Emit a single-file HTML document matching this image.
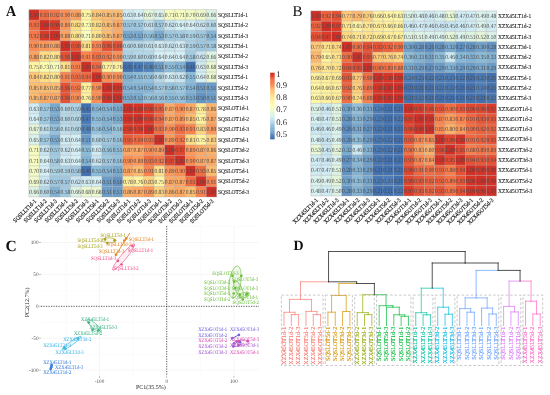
<!DOCTYPE html>
<html><head><meta charset="utf-8"><title>figure</title><style>
html,body{margin:0;padding:0;background:#fff;}
body{width:550px;height:395px;overflow:hidden;}
svg{display:block;font-family:"Liberation Serif",serif;will-change:transform;text-rendering:geometricPrecision;filter:blur(0.4px);}
.gl{stroke:#a0a0a0;stroke-width:0.35;}
.num text{text-anchor:middle;fill:#484848;}
.rl text{fill:#1a1a1a;stroke:#1a1a1a;stroke-width:0.1px;}
.cl text{text-anchor:end;fill:#111;stroke:#111;stroke-width:0.15px;}
.cb{font-size:8.6px;fill:#222;}
.gmin{stroke:#f6f6f6;stroke-width:0.5;}
.gmaj{stroke:#f0f0f0;stroke-width:0.6;}
.zl{stroke:#333;stroke-width:0.8;stroke-dasharray:1.2 1.3;}
.tk{stroke:#888;stroke-width:0.5;}
.tl{font-size:5.2px;fill:#4a4a4a;}
.at{font-size:6px;fill:#222;}
.pl{font-size:5.3px;stroke-width:0.04px;}
.dl{stroke-width:0.85;stroke-linecap:square;}
.dr{fill:none;stroke:#acacac;stroke-width:0.65;stroke-dasharray:2.6 1.9;}
.dlab{font-size:6.1px;text-anchor:end;stroke-width:0.12px;}
.big{font-weight:bold;fill:#111;}
</style></head><body>
<svg width="550" height="395" viewBox="0 0 550 395">
<rect width="550" height="395" fill="#fff"/>
<g>
<rect x="28.90" y="9.60" width="10.43" height="10.41" fill="#d12f26"/>
<rect x="39.33" y="9.60" width="10.43" height="10.41" fill="#f16d42"/>
<rect x="49.76" y="9.60" width="10.43" height="10.41" fill="#f67848"/>
<rect x="60.19" y="9.60" width="10.43" height="10.41" fill="#fc8e54"/>
<rect x="70.62" y="9.60" width="10.43" height="10.41" fill="#fca261"/>
<rect x="81.05" y="9.60" width="10.43" height="10.41" fill="#fff5a5"/>
<rect x="91.48" y="9.60" width="10.43" height="10.41" fill="#fdc777"/>
<rect x="101.91" y="9.60" width="10.43" height="10.41" fill="#fdbd71"/>
<rect x="112.34" y="9.60" width="10.43" height="10.41" fill="#fdbd71"/>
<rect x="122.77" y="9.60" width="10.43" height="10.41" fill="#d0ebf3"/>
<rect x="133.20" y="9.60" width="10.43" height="10.41" fill="#d4eff5"/>
<rect x="143.63" y="9.60" width="10.43" height="10.41" fill="#e3f4d8"/>
<rect x="154.06" y="9.60" width="10.43" height="10.41" fill="#daf1ec"/>
<rect x="164.49" y="9.60" width="10.43" height="10.41" fill="#f7fcbe"/>
<rect x="174.92" y="9.60" width="10.43" height="10.41" fill="#f7fcbe"/>
<rect x="185.35" y="9.60" width="10.43" height="10.41" fill="#f2fac5"/>
<rect x="195.78" y="9.60" width="10.43" height="10.41" fill="#eff9c9"/>
<rect x="206.21" y="9.60" width="10.43" height="10.41" fill="#ddf2e1"/>
<rect x="28.90" y="20.01" width="10.43" height="10.41" fill="#f16d42"/>
<rect x="39.33" y="20.01" width="10.43" height="10.41" fill="#d12f26"/>
<rect x="49.76" y="20.01" width="10.43" height="10.41" fill="#dd3b29"/>
<rect x="60.19" y="20.01" width="10.43" height="10.41" fill="#fc985a"/>
<rect x="70.62" y="20.01" width="10.43" height="10.41" fill="#fedd84"/>
<rect x="81.05" y="20.01" width="10.43" height="10.41" fill="#fffeb0"/>
<rect x="91.48" y="20.01" width="10.43" height="10.41" fill="#fedd84"/>
<rect x="101.91" y="20.01" width="10.43" height="10.41" fill="#fdbd71"/>
<rect x="112.34" y="20.01" width="10.43" height="10.41" fill="#fda864"/>
<rect x="122.77" y="20.01" width="10.43" height="10.41" fill="#9ec8e0"/>
<rect x="133.20" y="20.01" width="10.43" height="10.41" fill="#9ec8e0"/>
<rect x="143.63" y="20.01" width="10.43" height="10.41" fill="#bedeec"/>
<rect x="154.06" y="20.01" width="10.43" height="10.41" fill="#9ec8e0"/>
<rect x="164.49" y="20.01" width="10.43" height="10.41" fill="#c7e4f0"/>
<rect x="174.92" y="20.01" width="10.43" height="10.41" fill="#d4eff5"/>
<rect x="185.35" y="20.01" width="10.43" height="10.41" fill="#d4eff5"/>
<rect x="195.78" y="20.01" width="10.43" height="10.41" fill="#c7e4f0"/>
<rect x="206.21" y="20.01" width="10.43" height="10.41" fill="#b5d8e9"/>
<rect x="28.90" y="30.42" width="10.43" height="10.41" fill="#f67848"/>
<rect x="39.33" y="30.42" width="10.43" height="10.41" fill="#dd3b29"/>
<rect x="49.76" y="30.42" width="10.43" height="10.41" fill="#d12f26"/>
<rect x="60.19" y="30.42" width="10.43" height="10.41" fill="#fca261"/>
<rect x="70.62" y="30.42" width="10.43" height="10.41" fill="#fee38c"/>
<rect x="81.05" y="30.42" width="10.43" height="10.41" fill="#f7fcbe"/>
<rect x="91.48" y="30.42" width="10.43" height="10.41" fill="#fee38c"/>
<rect x="101.91" y="30.42" width="10.43" height="10.41" fill="#fdbd71"/>
<rect x="112.34" y="30.42" width="10.43" height="10.41" fill="#fda864"/>
<rect x="122.77" y="30.42" width="10.43" height="10.41" fill="#79abd0"/>
<rect x="133.20" y="30.42" width="10.43" height="10.41" fill="#79abd0"/>
<rect x="143.63" y="30.42" width="10.43" height="10.41" fill="#94c2dd"/>
<rect x="154.06" y="30.42" width="10.43" height="10.41" fill="#79abd0"/>
<rect x="164.49" y="30.42" width="10.43" height="10.41" fill="#9ec8e0"/>
<rect x="174.92" y="30.42" width="10.43" height="10.41" fill="#a2cbe2"/>
<rect x="185.35" y="30.42" width="10.43" height="10.41" fill="#abd1e5"/>
<rect x="195.78" y="30.42" width="10.43" height="10.41" fill="#9ec8e0"/>
<rect x="206.21" y="30.42" width="10.43" height="10.41" fill="#82b3d5"/>
<rect x="28.90" y="40.83" width="10.43" height="10.41" fill="#fc8e54"/>
<rect x="39.33" y="40.83" width="10.43" height="10.41" fill="#fc985a"/>
<rect x="49.76" y="40.83" width="10.43" height="10.41" fill="#fca261"/>
<rect x="60.19" y="40.83" width="10.43" height="10.41" fill="#d12f26"/>
<rect x="70.62" y="40.83" width="10.43" height="10.41" fill="#e65134"/>
<rect x="81.05" y="40.83" width="10.43" height="10.41" fill="#fedf87"/>
<rect x="91.48" y="40.83" width="10.43" height="10.41" fill="#fb834e"/>
<rect x="101.91" y="40.83" width="10.43" height="10.41" fill="#e65134"/>
<rect x="112.34" y="40.83" width="10.43" height="10.41" fill="#e65134"/>
<rect x="122.77" y="40.83" width="10.43" height="10.41" fill="#b5d8e9"/>
<rect x="133.20" y="40.83" width="10.43" height="10.41" fill="#b5d8e9"/>
<rect x="143.63" y="40.83" width="10.43" height="10.41" fill="#bedeec"/>
<rect x="154.06" y="40.83" width="10.43" height="10.41" fill="#d0ebf3"/>
<rect x="164.49" y="40.83" width="10.43" height="10.41" fill="#c7e4f0"/>
<rect x="174.92" y="40.83" width="10.43" height="10.41" fill="#d0ebf3"/>
<rect x="185.35" y="40.83" width="10.43" height="10.41" fill="#abd1e5"/>
<rect x="195.78" y="40.83" width="10.43" height="10.41" fill="#9ec8e0"/>
<rect x="206.21" y="40.83" width="10.43" height="10.41" fill="#a2cbe2"/>
<rect x="28.90" y="51.24" width="10.43" height="10.41" fill="#fca261"/>
<rect x="39.33" y="51.24" width="10.43" height="10.41" fill="#fedd84"/>
<rect x="49.76" y="51.24" width="10.43" height="10.41" fill="#fee38c"/>
<rect x="60.19" y="51.24" width="10.43" height="10.41" fill="#e65134"/>
<rect x="70.62" y="51.24" width="10.43" height="10.41" fill="#d12f26"/>
<rect x="81.05" y="51.24" width="10.43" height="10.41" fill="#fb834e"/>
<rect x="91.48" y="51.24" width="10.43" height="10.41" fill="#f16d42"/>
<rect x="101.91" y="51.24" width="10.43" height="10.41" fill="#f67848"/>
<rect x="112.34" y="51.24" width="10.43" height="10.41" fill="#fc8e54"/>
<rect x="122.77" y="51.24" width="10.43" height="10.41" fill="#abd1e5"/>
<rect x="133.20" y="51.24" width="10.43" height="10.41" fill="#b5d8e9"/>
<rect x="143.63" y="51.24" width="10.43" height="10.41" fill="#b5d8e9"/>
<rect x="154.06" y="51.24" width="10.43" height="10.41" fill="#d4eff5"/>
<rect x="164.49" y="51.24" width="10.43" height="10.41" fill="#d4eff5"/>
<rect x="174.92" y="51.24" width="10.43" height="10.41" fill="#d4eff5"/>
<rect x="185.35" y="51.24" width="10.43" height="10.41" fill="#a2cbe2"/>
<rect x="195.78" y="51.24" width="10.43" height="10.41" fill="#c7e4f0"/>
<rect x="206.21" y="51.24" width="10.43" height="10.41" fill="#ddf2e1"/>
<rect x="28.90" y="61.65" width="10.43" height="10.41" fill="#fff5a5"/>
<rect x="39.33" y="61.65" width="10.43" height="10.41" fill="#fffeb0"/>
<rect x="49.76" y="61.65" width="10.43" height="10.41" fill="#f7fcbe"/>
<rect x="60.19" y="61.65" width="10.43" height="10.41" fill="#fedf87"/>
<rect x="70.62" y="61.65" width="10.43" height="10.41" fill="#fb834e"/>
<rect x="81.05" y="61.65" width="10.43" height="10.41" fill="#d12f26"/>
<rect x="91.48" y="61.65" width="10.43" height="10.41" fill="#ef6740"/>
<rect x="101.91" y="61.65" width="10.43" height="10.41" fill="#feef9d"/>
<rect x="112.34" y="61.65" width="10.43" height="10.41" fill="#fff3a2"/>
<rect x="122.77" y="61.65" width="10.43" height="10.41" fill="#4371af"/>
<rect x="133.20" y="61.65" width="10.43" height="10.41" fill="#497ab6"/>
<rect x="143.63" y="61.65" width="10.43" height="10.41" fill="#5183bb"/>
<rect x="154.06" y="61.65" width="10.43" height="10.41" fill="#6c9dc9"/>
<rect x="164.49" y="61.65" width="10.43" height="10.41" fill="#8bbcd9"/>
<rect x="174.92" y="61.65" width="10.43" height="10.41" fill="#82b3d5"/>
<rect x="185.35" y="61.65" width="10.43" height="10.41" fill="#4371af"/>
<rect x="195.78" y="61.65" width="10.43" height="10.41" fill="#d0ebf3"/>
<rect x="206.21" y="61.65" width="10.43" height="10.41" fill="#eaf7d0"/>
<rect x="28.90" y="72.06" width="10.43" height="10.41" fill="#fdc777"/>
<rect x="39.33" y="72.06" width="10.43" height="10.41" fill="#fedd84"/>
<rect x="49.76" y="72.06" width="10.43" height="10.41" fill="#fee38c"/>
<rect x="60.19" y="72.06" width="10.43" height="10.41" fill="#fb834e"/>
<rect x="70.62" y="72.06" width="10.43" height="10.41" fill="#f16d42"/>
<rect x="81.05" y="72.06" width="10.43" height="10.41" fill="#ef6740"/>
<rect x="91.48" y="72.06" width="10.43" height="10.41" fill="#d12f26"/>
<rect x="101.91" y="72.06" width="10.43" height="10.41" fill="#fc8e54"/>
<rect x="112.34" y="72.06" width="10.43" height="10.41" fill="#fc8e54"/>
<rect x="122.77" y="72.06" width="10.43" height="10.41" fill="#82b3d5"/>
<rect x="133.20" y="72.06" width="10.43" height="10.41" fill="#8bbcd9"/>
<rect x="143.63" y="72.06" width="10.43" height="10.41" fill="#94c2dd"/>
<rect x="154.06" y="72.06" width="10.43" height="10.41" fill="#b5d8e9"/>
<rect x="164.49" y="72.06" width="10.43" height="10.41" fill="#d0ebf3"/>
<rect x="174.92" y="72.06" width="10.43" height="10.41" fill="#c7e4f0"/>
<rect x="185.35" y="72.06" width="10.43" height="10.41" fill="#8bbcd9"/>
<rect x="195.78" y="72.06" width="10.43" height="10.41" fill="#d4eff5"/>
<rect x="206.21" y="72.06" width="10.43" height="10.41" fill="#eaf7d0"/>
<rect x="28.90" y="82.47" width="10.43" height="10.41" fill="#fdbd71"/>
<rect x="39.33" y="82.47" width="10.43" height="10.41" fill="#fdbd71"/>
<rect x="49.76" y="82.47" width="10.43" height="10.41" fill="#fdbd71"/>
<rect x="60.19" y="82.47" width="10.43" height="10.41" fill="#e65134"/>
<rect x="70.62" y="82.47" width="10.43" height="10.41" fill="#f67848"/>
<rect x="81.05" y="82.47" width="10.43" height="10.41" fill="#feef9d"/>
<rect x="91.48" y="82.47" width="10.43" height="10.41" fill="#fc8e54"/>
<rect x="101.91" y="82.47" width="10.43" height="10.41" fill="#d12f26"/>
<rect x="112.34" y="82.47" width="10.43" height="10.41" fill="#d63226"/>
<rect x="122.77" y="82.47" width="10.43" height="10.41" fill="#82b3d5"/>
<rect x="133.20" y="82.47" width="10.43" height="10.41" fill="#82b3d5"/>
<rect x="143.63" y="82.47" width="10.43" height="10.41" fill="#82b3d5"/>
<rect x="154.06" y="82.47" width="10.43" height="10.41" fill="#9ec8e0"/>
<rect x="164.49" y="82.47" width="10.43" height="10.41" fill="#94c2dd"/>
<rect x="174.92" y="82.47" width="10.43" height="10.41" fill="#9ec8e0"/>
<rect x="185.35" y="82.47" width="10.43" height="10.41" fill="#82b3d5"/>
<rect x="195.78" y="82.47" width="10.43" height="10.41" fill="#6c9dc9"/>
<rect x="206.21" y="82.47" width="10.43" height="10.41" fill="#6c9dc9"/>
<rect x="28.90" y="92.88" width="10.43" height="10.41" fill="#fdbd71"/>
<rect x="39.33" y="92.88" width="10.43" height="10.41" fill="#fda864"/>
<rect x="49.76" y="92.88" width="10.43" height="10.41" fill="#fda864"/>
<rect x="60.19" y="92.88" width="10.43" height="10.41" fill="#e65134"/>
<rect x="70.62" y="92.88" width="10.43" height="10.41" fill="#fc8e54"/>
<rect x="81.05" y="92.88" width="10.43" height="10.41" fill="#fff3a2"/>
<rect x="91.48" y="92.88" width="10.43" height="10.41" fill="#fc8e54"/>
<rect x="101.91" y="92.88" width="10.43" height="10.41" fill="#d63226"/>
<rect x="112.34" y="92.88" width="10.43" height="10.41" fill="#d12f26"/>
<rect x="122.77" y="92.88" width="10.43" height="10.41" fill="#79abd0"/>
<rect x="133.20" y="92.88" width="10.43" height="10.41" fill="#79abd0"/>
<rect x="143.63" y="92.88" width="10.43" height="10.41" fill="#94c2dd"/>
<rect x="154.06" y="92.88" width="10.43" height="10.41" fill="#94c2dd"/>
<rect x="164.49" y="92.88" width="10.43" height="10.41" fill="#8bbcd9"/>
<rect x="174.92" y="92.88" width="10.43" height="10.41" fill="#94c2dd"/>
<rect x="185.35" y="92.88" width="10.43" height="10.41" fill="#79abd0"/>
<rect x="195.78" y="92.88" width="10.43" height="10.41" fill="#6394c4"/>
<rect x="206.21" y="92.88" width="10.43" height="10.41" fill="#6c9dc9"/>
<rect x="28.90" y="103.29" width="10.43" height="10.41" fill="#d0ebf3"/>
<rect x="39.33" y="103.29" width="10.43" height="10.41" fill="#9ec8e0"/>
<rect x="49.76" y="103.29" width="10.43" height="10.41" fill="#79abd0"/>
<rect x="60.19" y="103.29" width="10.43" height="10.41" fill="#b5d8e9"/>
<rect x="70.62" y="103.29" width="10.43" height="10.41" fill="#abd1e5"/>
<rect x="81.05" y="103.29" width="10.43" height="10.41" fill="#4371af"/>
<rect x="91.48" y="103.29" width="10.43" height="10.41" fill="#82b3d5"/>
<rect x="101.91" y="103.29" width="10.43" height="10.41" fill="#82b3d5"/>
<rect x="112.34" y="103.29" width="10.43" height="10.41" fill="#79abd0"/>
<rect x="122.77" y="103.29" width="10.43" height="10.41" fill="#d12f26"/>
<rect x="133.20" y="103.29" width="10.43" height="10.41" fill="#d63226"/>
<rect x="143.63" y="103.29" width="10.43" height="10.41" fill="#dd3b29"/>
<rect x="154.06" y="103.29" width="10.43" height="10.41" fill="#ea5c3a"/>
<rect x="164.49" y="103.29" width="10.43" height="10.41" fill="#fda864"/>
<rect x="174.92" y="103.29" width="10.43" height="10.41" fill="#fc8e54"/>
<rect x="185.35" y="103.29" width="10.43" height="10.41" fill="#fda864"/>
<rect x="195.78" y="103.29" width="10.43" height="10.41" fill="#feeb97"/>
<rect x="206.21" y="103.29" width="10.43" height="10.41" fill="#fdb26a"/>
<rect x="28.90" y="113.70" width="10.43" height="10.41" fill="#d4eff5"/>
<rect x="39.33" y="113.70" width="10.43" height="10.41" fill="#9ec8e0"/>
<rect x="49.76" y="113.70" width="10.43" height="10.41" fill="#79abd0"/>
<rect x="60.19" y="113.70" width="10.43" height="10.41" fill="#b5d8e9"/>
<rect x="70.62" y="113.70" width="10.43" height="10.41" fill="#b5d8e9"/>
<rect x="81.05" y="113.70" width="10.43" height="10.41" fill="#497ab6"/>
<rect x="91.48" y="113.70" width="10.43" height="10.41" fill="#8bbcd9"/>
<rect x="101.91" y="113.70" width="10.43" height="10.41" fill="#82b3d5"/>
<rect x="112.34" y="113.70" width="10.43" height="10.41" fill="#79abd0"/>
<rect x="122.77" y="113.70" width="10.43" height="10.41" fill="#d63226"/>
<rect x="133.20" y="113.70" width="10.43" height="10.41" fill="#d12f26"/>
<rect x="143.63" y="113.70" width="10.43" height="10.41" fill="#dd3b29"/>
<rect x="154.06" y="113.70" width="10.43" height="10.41" fill="#ef6740"/>
<rect x="164.49" y="113.70" width="10.43" height="10.41" fill="#fda864"/>
<rect x="174.92" y="113.70" width="10.43" height="10.41" fill="#fc985a"/>
<rect x="185.35" y="113.70" width="10.43" height="10.41" fill="#fdbd71"/>
<rect x="195.78" y="113.70" width="10.43" height="10.41" fill="#fff3a2"/>
<rect x="206.21" y="113.70" width="10.43" height="10.41" fill="#fda864"/>
<rect x="28.90" y="124.11" width="10.43" height="10.41" fill="#e3f4d8"/>
<rect x="39.33" y="124.11" width="10.43" height="10.41" fill="#bedeec"/>
<rect x="49.76" y="124.11" width="10.43" height="10.41" fill="#94c2dd"/>
<rect x="60.19" y="124.11" width="10.43" height="10.41" fill="#bedeec"/>
<rect x="70.62" y="124.11" width="10.43" height="10.41" fill="#b5d8e9"/>
<rect x="81.05" y="124.11" width="10.43" height="10.41" fill="#5183bb"/>
<rect x="91.48" y="124.11" width="10.43" height="10.41" fill="#94c2dd"/>
<rect x="101.91" y="124.11" width="10.43" height="10.41" fill="#82b3d5"/>
<rect x="112.34" y="124.11" width="10.43" height="10.41" fill="#94c2dd"/>
<rect x="122.77" y="124.11" width="10.43" height="10.41" fill="#dd3b29"/>
<rect x="133.20" y="124.11" width="10.43" height="10.41" fill="#dd3b29"/>
<rect x="143.63" y="124.11" width="10.43" height="10.41" fill="#d12f26"/>
<rect x="154.06" y="124.11" width="10.43" height="10.41" fill="#f16d42"/>
<rect x="164.49" y="124.11" width="10.43" height="10.41" fill="#fc8e54"/>
<rect x="174.92" y="124.11" width="10.43" height="10.41" fill="#f16d42"/>
<rect x="185.35" y="124.11" width="10.43" height="10.41" fill="#fb834e"/>
<rect x="195.78" y="124.11" width="10.43" height="10.41" fill="#fed27e"/>
<rect x="206.21" y="124.11" width="10.43" height="10.41" fill="#fc985a"/>
<rect x="28.90" y="134.52" width="10.43" height="10.41" fill="#daf1ec"/>
<rect x="39.33" y="134.52" width="10.43" height="10.41" fill="#9ec8e0"/>
<rect x="49.76" y="134.52" width="10.43" height="10.41" fill="#79abd0"/>
<rect x="60.19" y="134.52" width="10.43" height="10.41" fill="#d0ebf3"/>
<rect x="70.62" y="134.52" width="10.43" height="10.41" fill="#d4eff5"/>
<rect x="81.05" y="134.52" width="10.43" height="10.41" fill="#6c9dc9"/>
<rect x="91.48" y="134.52" width="10.43" height="10.41" fill="#b5d8e9"/>
<rect x="101.91" y="134.52" width="10.43" height="10.41" fill="#9ec8e0"/>
<rect x="112.34" y="134.52" width="10.43" height="10.41" fill="#94c2dd"/>
<rect x="122.77" y="134.52" width="10.43" height="10.41" fill="#ea5c3a"/>
<rect x="133.20" y="134.52" width="10.43" height="10.41" fill="#ef6740"/>
<rect x="143.63" y="134.52" width="10.43" height="10.41" fill="#f16d42"/>
<rect x="154.06" y="134.52" width="10.43" height="10.41" fill="#d12f26"/>
<rect x="164.49" y="134.52" width="10.43" height="10.41" fill="#fc985a"/>
<rect x="174.92" y="134.52" width="10.43" height="10.41" fill="#f67848"/>
<rect x="185.35" y="134.52" width="10.43" height="10.41" fill="#fedf87"/>
<rect x="195.78" y="134.52" width="10.43" height="10.41" fill="#fff5a5"/>
<rect x="206.21" y="134.52" width="10.43" height="10.41" fill="#fed27e"/>
<rect x="28.90" y="144.93" width="10.43" height="10.41" fill="#f7fcbe"/>
<rect x="39.33" y="144.93" width="10.43" height="10.41" fill="#c7e4f0"/>
<rect x="49.76" y="144.93" width="10.43" height="10.41" fill="#9ec8e0"/>
<rect x="60.19" y="144.93" width="10.43" height="10.41" fill="#c7e4f0"/>
<rect x="70.62" y="144.93" width="10.43" height="10.41" fill="#d4eff5"/>
<rect x="81.05" y="144.93" width="10.43" height="10.41" fill="#8bbcd9"/>
<rect x="91.48" y="144.93" width="10.43" height="10.41" fill="#d0ebf3"/>
<rect x="101.91" y="144.93" width="10.43" height="10.41" fill="#94c2dd"/>
<rect x="112.34" y="144.93" width="10.43" height="10.41" fill="#8bbcd9"/>
<rect x="122.77" y="144.93" width="10.43" height="10.41" fill="#fda864"/>
<rect x="133.20" y="144.93" width="10.43" height="10.41" fill="#fda864"/>
<rect x="143.63" y="144.93" width="10.43" height="10.41" fill="#fc8e54"/>
<rect x="154.06" y="144.93" width="10.43" height="10.41" fill="#fc985a"/>
<rect x="164.49" y="144.93" width="10.43" height="10.41" fill="#d12f26"/>
<rect x="174.92" y="144.93" width="10.43" height="10.41" fill="#e1462f"/>
<rect x="185.35" y="144.93" width="10.43" height="10.41" fill="#fc985a"/>
<rect x="195.78" y="144.93" width="10.43" height="10.41" fill="#fda864"/>
<rect x="206.21" y="144.93" width="10.43" height="10.41" fill="#fdb26a"/>
<rect x="28.90" y="155.34" width="10.43" height="10.41" fill="#f7fcbe"/>
<rect x="39.33" y="155.34" width="10.43" height="10.41" fill="#d4eff5"/>
<rect x="49.76" y="155.34" width="10.43" height="10.41" fill="#a2cbe2"/>
<rect x="60.19" y="155.34" width="10.43" height="10.41" fill="#d0ebf3"/>
<rect x="70.62" y="155.34" width="10.43" height="10.41" fill="#d4eff5"/>
<rect x="81.05" y="155.34" width="10.43" height="10.41" fill="#82b3d5"/>
<rect x="91.48" y="155.34" width="10.43" height="10.41" fill="#c7e4f0"/>
<rect x="101.91" y="155.34" width="10.43" height="10.41" fill="#9ec8e0"/>
<rect x="112.34" y="155.34" width="10.43" height="10.41" fill="#94c2dd"/>
<rect x="122.77" y="155.34" width="10.43" height="10.41" fill="#fc8e54"/>
<rect x="133.20" y="155.34" width="10.43" height="10.41" fill="#fc985a"/>
<rect x="143.63" y="155.34" width="10.43" height="10.41" fill="#f16d42"/>
<rect x="154.06" y="155.34" width="10.43" height="10.41" fill="#f67848"/>
<rect x="164.49" y="155.34" width="10.43" height="10.41" fill="#e1462f"/>
<rect x="174.92" y="155.34" width="10.43" height="10.41" fill="#d12f26"/>
<rect x="185.35" y="155.34" width="10.43" height="10.41" fill="#fc8e54"/>
<rect x="195.78" y="155.34" width="10.43" height="10.41" fill="#fda864"/>
<rect x="206.21" y="155.34" width="10.43" height="10.41" fill="#fda864"/>
<rect x="28.90" y="165.75" width="10.43" height="10.41" fill="#f2fac5"/>
<rect x="39.33" y="165.75" width="10.43" height="10.41" fill="#d4eff5"/>
<rect x="49.76" y="165.75" width="10.43" height="10.41" fill="#abd1e5"/>
<rect x="60.19" y="165.75" width="10.43" height="10.41" fill="#abd1e5"/>
<rect x="70.62" y="165.75" width="10.43" height="10.41" fill="#a2cbe2"/>
<rect x="81.05" y="165.75" width="10.43" height="10.41" fill="#4371af"/>
<rect x="91.48" y="165.75" width="10.43" height="10.41" fill="#8bbcd9"/>
<rect x="101.91" y="165.75" width="10.43" height="10.41" fill="#82b3d5"/>
<rect x="112.34" y="165.75" width="10.43" height="10.41" fill="#79abd0"/>
<rect x="122.77" y="165.75" width="10.43" height="10.41" fill="#fda864"/>
<rect x="133.20" y="165.75" width="10.43" height="10.41" fill="#fdbd71"/>
<rect x="143.63" y="165.75" width="10.43" height="10.41" fill="#fb834e"/>
<rect x="154.06" y="165.75" width="10.43" height="10.41" fill="#fedf87"/>
<rect x="164.49" y="165.75" width="10.43" height="10.41" fill="#fc985a"/>
<rect x="174.92" y="165.75" width="10.43" height="10.41" fill="#fc8e54"/>
<rect x="185.35" y="165.75" width="10.43" height="10.41" fill="#d12f26"/>
<rect x="195.78" y="165.75" width="10.43" height="10.41" fill="#f16d42"/>
<rect x="206.21" y="165.75" width="10.43" height="10.41" fill="#fdbd71"/>
<rect x="28.90" y="176.16" width="10.43" height="10.41" fill="#eff9c9"/>
<rect x="39.33" y="176.16" width="10.43" height="10.41" fill="#c7e4f0"/>
<rect x="49.76" y="176.16" width="10.43" height="10.41" fill="#9ec8e0"/>
<rect x="60.19" y="176.16" width="10.43" height="10.41" fill="#9ec8e0"/>
<rect x="70.62" y="176.16" width="10.43" height="10.41" fill="#c7e4f0"/>
<rect x="81.05" y="176.16" width="10.43" height="10.41" fill="#d0ebf3"/>
<rect x="91.48" y="176.16" width="10.43" height="10.41" fill="#d4eff5"/>
<rect x="101.91" y="176.16" width="10.43" height="10.41" fill="#6c9dc9"/>
<rect x="112.34" y="176.16" width="10.43" height="10.41" fill="#6394c4"/>
<rect x="122.77" y="176.16" width="10.43" height="10.41" fill="#feeb97"/>
<rect x="133.20" y="176.16" width="10.43" height="10.41" fill="#fff3a2"/>
<rect x="143.63" y="176.16" width="10.43" height="10.41" fill="#fed27e"/>
<rect x="154.06" y="176.16" width="10.43" height="10.41" fill="#fff5a5"/>
<rect x="164.49" y="176.16" width="10.43" height="10.41" fill="#fda864"/>
<rect x="174.92" y="176.16" width="10.43" height="10.41" fill="#fda864"/>
<rect x="185.35" y="176.16" width="10.43" height="10.41" fill="#f16d42"/>
<rect x="195.78" y="176.16" width="10.43" height="10.41" fill="#d12f26"/>
<rect x="206.21" y="176.16" width="10.43" height="10.41" fill="#fb834e"/>
<rect x="28.90" y="186.57" width="10.43" height="10.41" fill="#ddf2e1"/>
<rect x="39.33" y="186.57" width="10.43" height="10.41" fill="#b5d8e9"/>
<rect x="49.76" y="186.57" width="10.43" height="10.41" fill="#82b3d5"/>
<rect x="60.19" y="186.57" width="10.43" height="10.41" fill="#a2cbe2"/>
<rect x="70.62" y="186.57" width="10.43" height="10.41" fill="#ddf2e1"/>
<rect x="81.05" y="186.57" width="10.43" height="10.41" fill="#eaf7d0"/>
<rect x="91.48" y="186.57" width="10.43" height="10.41" fill="#eaf7d0"/>
<rect x="101.91" y="186.57" width="10.43" height="10.41" fill="#6c9dc9"/>
<rect x="112.34" y="186.57" width="10.43" height="10.41" fill="#6c9dc9"/>
<rect x="122.77" y="186.57" width="10.43" height="10.41" fill="#fdb26a"/>
<rect x="133.20" y="186.57" width="10.43" height="10.41" fill="#fda864"/>
<rect x="143.63" y="186.57" width="10.43" height="10.41" fill="#fc985a"/>
<rect x="154.06" y="186.57" width="10.43" height="10.41" fill="#fed27e"/>
<rect x="164.49" y="186.57" width="10.43" height="10.41" fill="#fdb26a"/>
<rect x="174.92" y="186.57" width="10.43" height="10.41" fill="#fda864"/>
<rect x="185.35" y="186.57" width="10.43" height="10.41" fill="#fdbd71"/>
<rect x="195.78" y="186.57" width="10.43" height="10.41" fill="#fb834e"/>
<rect x="206.21" y="186.57" width="10.43" height="10.41" fill="#d12f26"/>
<line x1="28.90" y1="9.60" x2="28.90" y2="196.98" class="gl"/>
<line x1="28.90" y1="9.60" x2="216.64" y2="9.60" class="gl"/>
<line x1="39.33" y1="9.60" x2="39.33" y2="196.98" class="gl"/>
<line x1="28.90" y1="20.01" x2="216.64" y2="20.01" class="gl"/>
<line x1="49.76" y1="9.60" x2="49.76" y2="196.98" class="gl"/>
<line x1="28.90" y1="30.42" x2="216.64" y2="30.42" class="gl"/>
<line x1="60.19" y1="9.60" x2="60.19" y2="196.98" class="gl"/>
<line x1="28.90" y1="40.83" x2="216.64" y2="40.83" class="gl"/>
<line x1="70.62" y1="9.60" x2="70.62" y2="196.98" class="gl"/>
<line x1="28.90" y1="51.24" x2="216.64" y2="51.24" class="gl"/>
<line x1="81.05" y1="9.60" x2="81.05" y2="196.98" class="gl"/>
<line x1="28.90" y1="61.65" x2="216.64" y2="61.65" class="gl"/>
<line x1="91.48" y1="9.60" x2="91.48" y2="196.98" class="gl"/>
<line x1="28.90" y1="72.06" x2="216.64" y2="72.06" class="gl"/>
<line x1="101.91" y1="9.60" x2="101.91" y2="196.98" class="gl"/>
<line x1="28.90" y1="82.47" x2="216.64" y2="82.47" class="gl"/>
<line x1="112.34" y1="9.60" x2="112.34" y2="196.98" class="gl"/>
<line x1="28.90" y1="92.88" x2="216.64" y2="92.88" class="gl"/>
<line x1="122.77" y1="9.60" x2="122.77" y2="196.98" class="gl"/>
<line x1="28.90" y1="103.29" x2="216.64" y2="103.29" class="gl"/>
<line x1="133.20" y1="9.60" x2="133.20" y2="196.98" class="gl"/>
<line x1="28.90" y1="113.70" x2="216.64" y2="113.70" class="gl"/>
<line x1="143.63" y1="9.60" x2="143.63" y2="196.98" class="gl"/>
<line x1="28.90" y1="124.11" x2="216.64" y2="124.11" class="gl"/>
<line x1="154.06" y1="9.60" x2="154.06" y2="196.98" class="gl"/>
<line x1="28.90" y1="134.52" x2="216.64" y2="134.52" class="gl"/>
<line x1="164.49" y1="9.60" x2="164.49" y2="196.98" class="gl"/>
<line x1="28.90" y1="144.93" x2="216.64" y2="144.93" class="gl"/>
<line x1="174.92" y1="9.60" x2="174.92" y2="196.98" class="gl"/>
<line x1="28.90" y1="155.34" x2="216.64" y2="155.34" class="gl"/>
<line x1="185.35" y1="9.60" x2="185.35" y2="196.98" class="gl"/>
<line x1="28.90" y1="165.75" x2="216.64" y2="165.75" class="gl"/>
<line x1="195.78" y1="9.60" x2="195.78" y2="196.98" class="gl"/>
<line x1="28.90" y1="176.16" x2="216.64" y2="176.16" class="gl"/>
<line x1="206.21" y1="9.60" x2="206.21" y2="196.98" class="gl"/>
<line x1="28.90" y1="186.57" x2="216.64" y2="186.57" class="gl"/>
<line x1="216.64" y1="9.60" x2="216.64" y2="196.98" class="gl"/>
<line x1="28.90" y1="196.98" x2="216.64" y2="196.98" class="gl"/>
<g class="num" style="font-size:6.3px">
<text transform="translate(34.11,16.95) scale(0.88,1)">1.00</text>
<text transform="translate(44.55,16.95) scale(0.88,1)">0.93</text>
<text transform="translate(54.97,16.95) scale(0.88,1)">0.92</text>
<text transform="translate(65.41,16.95) scale(0.88,1)">0.90</text>
<text transform="translate(75.84,16.95) scale(0.88,1)">0.88</text>
<text transform="translate(86.27,16.95) scale(0.88,1)">0.75</text>
<text transform="translate(96.69,16.95) scale(0.88,1)">0.84</text>
<text transform="translate(107.12,16.95) scale(0.88,1)">0.85</text>
<text transform="translate(117.56,16.95) scale(0.88,1)">0.85</text>
<text transform="translate(127.99,16.95) scale(0.88,1)">0.63</text>
<text transform="translate(138.41,16.95) scale(0.88,1)">0.64</text>
<text transform="translate(148.84,16.95) scale(0.88,1)">0.67</text>
<text transform="translate(159.28,16.95) scale(0.88,1)">0.65</text>
<text transform="translate(169.71,16.95) scale(0.88,1)">0.71</text>
<text transform="translate(180.13,16.95) scale(0.88,1)">0.71</text>
<text transform="translate(190.56,16.95) scale(0.88,1)">0.70</text>
<text transform="translate(201.00,16.95) scale(0.88,1)">0.69</text>
<text transform="translate(211.43,16.95) scale(0.88,1)">0.66</text>
<text transform="translate(34.11,27.36) scale(0.88,1)">0.93</text>
<text transform="translate(44.55,27.36) scale(0.88,1)">1.00</text>
<text transform="translate(54.97,27.36) scale(0.88,1)">0.98</text>
<text transform="translate(65.41,27.36) scale(0.88,1)">0.89</text>
<text transform="translate(75.84,27.36) scale(0.88,1)">0.82</text>
<text transform="translate(86.27,27.36) scale(0.88,1)">0.73</text>
<text transform="translate(96.69,27.36) scale(0.88,1)">0.82</text>
<text transform="translate(107.12,27.36) scale(0.88,1)">0.85</text>
<text transform="translate(117.56,27.36) scale(0.88,1)">0.87</text>
<text transform="translate(127.99,27.36) scale(0.88,1)">0.57</text>
<text transform="translate(138.41,27.36) scale(0.88,1)">0.57</text>
<text transform="translate(148.84,27.36) scale(0.88,1)">0.61</text>
<text transform="translate(159.28,27.36) scale(0.88,1)">0.57</text>
<text transform="translate(169.71,27.36) scale(0.88,1)">0.62</text>
<text transform="translate(180.13,27.36) scale(0.88,1)">0.64</text>
<text transform="translate(190.56,27.36) scale(0.88,1)">0.64</text>
<text transform="translate(201.00,27.36) scale(0.88,1)">0.62</text>
<text transform="translate(211.43,27.36) scale(0.88,1)">0.60</text>
<text transform="translate(34.11,37.77) scale(0.88,1)">0.92</text>
<text transform="translate(44.55,37.77) scale(0.88,1)">0.98</text>
<text transform="translate(54.97,37.77) scale(0.88,1)">1.00</text>
<text transform="translate(65.41,37.77) scale(0.88,1)">0.88</text>
<text transform="translate(75.84,37.77) scale(0.88,1)">0.80</text>
<text transform="translate(86.27,37.77) scale(0.88,1)">0.71</text>
<text transform="translate(96.69,37.77) scale(0.88,1)">0.80</text>
<text transform="translate(107.12,37.77) scale(0.88,1)">0.85</text>
<text transform="translate(117.56,37.77) scale(0.88,1)">0.87</text>
<text transform="translate(127.99,37.77) scale(0.88,1)">0.53</text>
<text transform="translate(138.41,37.77) scale(0.88,1)">0.53</text>
<text transform="translate(148.84,37.77) scale(0.88,1)">0.56</text>
<text transform="translate(159.28,37.77) scale(0.88,1)">0.53</text>
<text transform="translate(169.71,37.77) scale(0.88,1)">0.57</text>
<text transform="translate(180.13,37.77) scale(0.88,1)">0.58</text>
<text transform="translate(190.56,37.77) scale(0.88,1)">0.59</text>
<text transform="translate(201.00,37.77) scale(0.88,1)">0.57</text>
<text transform="translate(211.43,37.77) scale(0.88,1)">0.54</text>
<text transform="translate(34.11,48.18) scale(0.88,1)">0.90</text>
<text transform="translate(44.55,48.18) scale(0.88,1)">0.89</text>
<text transform="translate(54.97,48.18) scale(0.88,1)">0.88</text>
<text transform="translate(65.41,48.18) scale(0.88,1)">1.00</text>
<text transform="translate(75.84,48.18) scale(0.88,1)">0.96</text>
<text transform="translate(86.27,48.18) scale(0.88,1)">0.81</text>
<text transform="translate(96.69,48.18) scale(0.88,1)">0.91</text>
<text transform="translate(107.12,48.18) scale(0.88,1)">0.96</text>
<text transform="translate(117.56,48.18) scale(0.88,1)">0.96</text>
<text transform="translate(127.99,48.18) scale(0.88,1)">0.60</text>
<text transform="translate(138.41,48.18) scale(0.88,1)">0.60</text>
<text transform="translate(148.84,48.18) scale(0.88,1)">0.61</text>
<text transform="translate(159.28,48.18) scale(0.88,1)">0.63</text>
<text transform="translate(169.71,48.18) scale(0.88,1)">0.62</text>
<text transform="translate(180.13,48.18) scale(0.88,1)">0.63</text>
<text transform="translate(190.56,48.18) scale(0.88,1)">0.59</text>
<text transform="translate(201.00,48.18) scale(0.88,1)">0.57</text>
<text transform="translate(211.43,48.18) scale(0.88,1)">0.58</text>
<text transform="translate(34.11,58.59) scale(0.88,1)">0.88</text>
<text transform="translate(44.55,58.59) scale(0.88,1)">0.82</text>
<text transform="translate(54.97,58.59) scale(0.88,1)">0.80</text>
<text transform="translate(65.41,58.59) scale(0.88,1)">0.96</text>
<text transform="translate(75.84,58.59) scale(0.88,1)">1.00</text>
<text transform="translate(86.27,58.59) scale(0.88,1)">0.91</text>
<text transform="translate(96.69,58.59) scale(0.88,1)">0.93</text>
<text transform="translate(107.12,58.59) scale(0.88,1)">0.92</text>
<text transform="translate(117.56,58.59) scale(0.88,1)">0.90</text>
<text transform="translate(127.99,58.59) scale(0.88,1)">0.59</text>
<text transform="translate(138.41,58.59) scale(0.88,1)">0.60</text>
<text transform="translate(148.84,58.59) scale(0.88,1)">0.60</text>
<text transform="translate(159.28,58.59) scale(0.88,1)">0.64</text>
<text transform="translate(169.71,58.59) scale(0.88,1)">0.64</text>
<text transform="translate(180.13,58.59) scale(0.88,1)">0.64</text>
<text transform="translate(190.56,58.59) scale(0.88,1)">0.58</text>
<text transform="translate(201.00,58.59) scale(0.88,1)">0.62</text>
<text transform="translate(211.43,58.59) scale(0.88,1)">0.66</text>
<text transform="translate(34.11,69.00) scale(0.88,1)">0.75</text>
<text transform="translate(44.55,69.00) scale(0.88,1)">0.73</text>
<text transform="translate(54.97,69.00) scale(0.88,1)">0.71</text>
<text transform="translate(65.41,69.00) scale(0.88,1)">0.81</text>
<text transform="translate(75.84,69.00) scale(0.88,1)">0.91</text>
<text transform="translate(86.27,69.00) scale(0.88,1)">1.00</text>
<text transform="translate(96.69,69.00) scale(0.88,1)">0.94</text>
<text transform="translate(107.12,69.00) scale(0.88,1)">0.77</text>
<text transform="translate(117.56,69.00) scale(0.88,1)">0.76</text>
<text transform="translate(127.99,69.00) scale(0.88,1)">0.45</text>
<text transform="translate(138.41,69.00) scale(0.88,1)">0.47</text>
<text transform="translate(148.84,69.00) scale(0.88,1)">0.48</text>
<text transform="translate(159.28,69.00) scale(0.88,1)">0.51</text>
<text transform="translate(169.71,69.00) scale(0.88,1)">0.55</text>
<text transform="translate(180.13,69.00) scale(0.88,1)">0.54</text>
<text transform="translate(190.56,69.00) scale(0.88,1)">0.46</text>
<text transform="translate(201.00,69.00) scale(0.88,1)">0.63</text>
<text transform="translate(211.43,69.00) scale(0.88,1)">0.68</text>
<text transform="translate(34.11,79.41) scale(0.88,1)">0.84</text>
<text transform="translate(44.55,79.41) scale(0.88,1)">0.82</text>
<text transform="translate(54.97,79.41) scale(0.88,1)">0.80</text>
<text transform="translate(65.41,79.41) scale(0.88,1)">0.91</text>
<text transform="translate(75.84,79.41) scale(0.88,1)">0.93</text>
<text transform="translate(86.27,79.41) scale(0.88,1)">0.94</text>
<text transform="translate(96.69,79.41) scale(0.88,1)">1.00</text>
<text transform="translate(107.12,79.41) scale(0.88,1)">0.90</text>
<text transform="translate(117.56,79.41) scale(0.88,1)">0.90</text>
<text transform="translate(127.99,79.41) scale(0.88,1)">0.54</text>
<text transform="translate(138.41,79.41) scale(0.88,1)">0.55</text>
<text transform="translate(148.84,79.41) scale(0.88,1)">0.56</text>
<text transform="translate(159.28,79.41) scale(0.88,1)">0.60</text>
<text transform="translate(169.71,79.41) scale(0.88,1)">0.63</text>
<text transform="translate(180.13,79.41) scale(0.88,1)">0.62</text>
<text transform="translate(190.56,79.41) scale(0.88,1)">0.55</text>
<text transform="translate(201.00,79.41) scale(0.88,1)">0.64</text>
<text transform="translate(211.43,79.41) scale(0.88,1)">0.68</text>
<text transform="translate(34.11,89.82) scale(0.88,1)">0.85</text>
<text transform="translate(44.55,89.82) scale(0.88,1)">0.85</text>
<text transform="translate(54.97,89.82) scale(0.88,1)">0.85</text>
<text transform="translate(65.41,89.82) scale(0.88,1)">0.96</text>
<text transform="translate(75.84,89.82) scale(0.88,1)">0.92</text>
<text transform="translate(86.27,89.82) scale(0.88,1)">0.77</text>
<text transform="translate(96.69,89.82) scale(0.88,1)">0.90</text>
<text transform="translate(107.12,89.82) scale(0.88,1)">1.00</text>
<text transform="translate(117.56,89.82) scale(0.88,1)">0.99</text>
<text transform="translate(127.99,89.82) scale(0.88,1)">0.54</text>
<text transform="translate(138.41,89.82) scale(0.88,1)">0.54</text>
<text transform="translate(148.84,89.82) scale(0.88,1)">0.54</text>
<text transform="translate(159.28,89.82) scale(0.88,1)">0.57</text>
<text transform="translate(169.71,89.82) scale(0.88,1)">0.56</text>
<text transform="translate(180.13,89.82) scale(0.88,1)">0.57</text>
<text transform="translate(190.56,89.82) scale(0.88,1)">0.54</text>
<text transform="translate(201.00,89.82) scale(0.88,1)">0.51</text>
<text transform="translate(211.43,89.82) scale(0.88,1)">0.51</text>
<text transform="translate(34.11,100.23) scale(0.88,1)">0.85</text>
<text transform="translate(44.55,100.23) scale(0.88,1)">0.87</text>
<text transform="translate(54.97,100.23) scale(0.88,1)">0.87</text>
<text transform="translate(65.41,100.23) scale(0.88,1)">0.96</text>
<text transform="translate(75.84,100.23) scale(0.88,1)">0.90</text>
<text transform="translate(86.27,100.23) scale(0.88,1)">0.76</text>
<text transform="translate(96.69,100.23) scale(0.88,1)">0.90</text>
<text transform="translate(107.12,100.23) scale(0.88,1)">0.99</text>
<text transform="translate(117.56,100.23) scale(0.88,1)">1.00</text>
<text transform="translate(127.99,100.23) scale(0.88,1)">0.53</text>
<text transform="translate(138.41,100.23) scale(0.88,1)">0.53</text>
<text transform="translate(148.84,100.23) scale(0.88,1)">0.56</text>
<text transform="translate(159.28,100.23) scale(0.88,1)">0.56</text>
<text transform="translate(169.71,100.23) scale(0.88,1)">0.55</text>
<text transform="translate(180.13,100.23) scale(0.88,1)">0.56</text>
<text transform="translate(190.56,100.23) scale(0.88,1)">0.53</text>
<text transform="translate(201.00,100.23) scale(0.88,1)">0.50</text>
<text transform="translate(211.43,100.23) scale(0.88,1)">0.51</text>
<text transform="translate(34.11,110.64) scale(0.88,1)">0.63</text>
<text transform="translate(44.55,110.64) scale(0.88,1)">0.57</text>
<text transform="translate(54.97,110.64) scale(0.88,1)">0.53</text>
<text transform="translate(65.41,110.64) scale(0.88,1)">0.60</text>
<text transform="translate(75.84,110.64) scale(0.88,1)">0.59</text>
<text transform="translate(86.27,110.64) scale(0.88,1)">0.45</text>
<text transform="translate(96.69,110.64) scale(0.88,1)">0.54</text>
<text transform="translate(107.12,110.64) scale(0.88,1)">0.54</text>
<text transform="translate(117.56,110.64) scale(0.88,1)">0.53</text>
<text transform="translate(127.99,110.64) scale(0.88,1)">1.00</text>
<text transform="translate(138.41,110.64) scale(0.88,1)">0.99</text>
<text transform="translate(148.84,110.64) scale(0.88,1)">0.98</text>
<text transform="translate(159.28,110.64) scale(0.88,1)">0.95</text>
<text transform="translate(169.71,110.64) scale(0.88,1)">0.87</text>
<text transform="translate(180.13,110.64) scale(0.88,1)">0.90</text>
<text transform="translate(190.56,110.64) scale(0.88,1)">0.87</text>
<text transform="translate(201.00,110.64) scale(0.88,1)">0.78</text>
<text transform="translate(211.43,110.64) scale(0.88,1)">0.86</text>
<text transform="translate(34.11,121.05) scale(0.88,1)">0.64</text>
<text transform="translate(44.55,121.05) scale(0.88,1)">0.57</text>
<text transform="translate(54.97,121.05) scale(0.88,1)">0.53</text>
<text transform="translate(65.41,121.05) scale(0.88,1)">0.60</text>
<text transform="translate(75.84,121.05) scale(0.88,1)">0.60</text>
<text transform="translate(86.27,121.05) scale(0.88,1)">0.47</text>
<text transform="translate(96.69,121.05) scale(0.88,1)">0.55</text>
<text transform="translate(107.12,121.05) scale(0.88,1)">0.54</text>
<text transform="translate(117.56,121.05) scale(0.88,1)">0.53</text>
<text transform="translate(127.99,121.05) scale(0.88,1)">0.99</text>
<text transform="translate(138.41,121.05) scale(0.88,1)">1.00</text>
<text transform="translate(148.84,121.05) scale(0.88,1)">0.98</text>
<text transform="translate(159.28,121.05) scale(0.88,1)">0.94</text>
<text transform="translate(169.71,121.05) scale(0.88,1)">0.87</text>
<text transform="translate(180.13,121.05) scale(0.88,1)">0.89</text>
<text transform="translate(190.56,121.05) scale(0.88,1)">0.85</text>
<text transform="translate(201.00,121.05) scale(0.88,1)">0.76</text>
<text transform="translate(211.43,121.05) scale(0.88,1)">0.87</text>
<text transform="translate(34.11,131.46) scale(0.88,1)">0.67</text>
<text transform="translate(44.55,131.46) scale(0.88,1)">0.61</text>
<text transform="translate(54.97,131.46) scale(0.88,1)">0.56</text>
<text transform="translate(65.41,131.46) scale(0.88,1)">0.61</text>
<text transform="translate(75.84,131.46) scale(0.88,1)">0.60</text>
<text transform="translate(86.27,131.46) scale(0.88,1)">0.48</text>
<text transform="translate(96.69,131.46) scale(0.88,1)">0.56</text>
<text transform="translate(107.12,131.46) scale(0.88,1)">0.54</text>
<text transform="translate(117.56,131.46) scale(0.88,1)">0.56</text>
<text transform="translate(127.99,131.46) scale(0.88,1)">0.98</text>
<text transform="translate(138.41,131.46) scale(0.88,1)">0.98</text>
<text transform="translate(148.84,131.46) scale(0.88,1)">1.00</text>
<text transform="translate(159.28,131.46) scale(0.88,1)">0.93</text>
<text transform="translate(169.71,131.46) scale(0.88,1)">0.90</text>
<text transform="translate(180.13,131.46) scale(0.88,1)">0.93</text>
<text transform="translate(190.56,131.46) scale(0.88,1)">0.91</text>
<text transform="translate(201.00,131.46) scale(0.88,1)">0.83</text>
<text transform="translate(211.43,131.46) scale(0.88,1)">0.89</text>
<text transform="translate(34.11,141.87) scale(0.88,1)">0.65</text>
<text transform="translate(44.55,141.87) scale(0.88,1)">0.57</text>
<text transform="translate(54.97,141.87) scale(0.88,1)">0.53</text>
<text transform="translate(65.41,141.87) scale(0.88,1)">0.63</text>
<text transform="translate(75.84,141.87) scale(0.88,1)">0.64</text>
<text transform="translate(86.27,141.87) scale(0.88,1)">0.51</text>
<text transform="translate(96.69,141.87) scale(0.88,1)">0.60</text>
<text transform="translate(107.12,141.87) scale(0.88,1)">0.57</text>
<text transform="translate(117.56,141.87) scale(0.88,1)">0.56</text>
<text transform="translate(127.99,141.87) scale(0.88,1)">0.95</text>
<text transform="translate(138.41,141.87) scale(0.88,1)">0.94</text>
<text transform="translate(148.84,141.87) scale(0.88,1)">0.93</text>
<text transform="translate(159.28,141.87) scale(0.88,1)">1.00</text>
<text transform="translate(169.71,141.87) scale(0.88,1)">0.89</text>
<text transform="translate(180.13,141.87) scale(0.88,1)">0.92</text>
<text transform="translate(190.56,141.87) scale(0.88,1)">0.81</text>
<text transform="translate(201.00,141.87) scale(0.88,1)">0.75</text>
<text transform="translate(211.43,141.87) scale(0.88,1)">0.83</text>
<text transform="translate(34.11,152.28) scale(0.88,1)">0.71</text>
<text transform="translate(44.55,152.28) scale(0.88,1)">0.62</text>
<text transform="translate(54.97,152.28) scale(0.88,1)">0.57</text>
<text transform="translate(65.41,152.28) scale(0.88,1)">0.62</text>
<text transform="translate(75.84,152.28) scale(0.88,1)">0.64</text>
<text transform="translate(86.27,152.28) scale(0.88,1)">0.55</text>
<text transform="translate(96.69,152.28) scale(0.88,1)">0.63</text>
<text transform="translate(107.12,152.28) scale(0.88,1)">0.56</text>
<text transform="translate(117.56,152.28) scale(0.88,1)">0.55</text>
<text transform="translate(127.99,152.28) scale(0.88,1)">0.87</text>
<text transform="translate(138.41,152.28) scale(0.88,1)">0.87</text>
<text transform="translate(148.84,152.28) scale(0.88,1)">0.90</text>
<text transform="translate(159.28,152.28) scale(0.88,1)">0.89</text>
<text transform="translate(169.71,152.28) scale(0.88,1)">1.00</text>
<text transform="translate(180.13,152.28) scale(0.88,1)">0.97</text>
<text transform="translate(190.56,152.28) scale(0.88,1)">0.89</text>
<text transform="translate(201.00,152.28) scale(0.88,1)">0.87</text>
<text transform="translate(211.43,152.28) scale(0.88,1)">0.86</text>
<text transform="translate(34.11,162.69) scale(0.88,1)">0.71</text>
<text transform="translate(44.55,162.69) scale(0.88,1)">0.64</text>
<text transform="translate(54.97,162.69) scale(0.88,1)">0.58</text>
<text transform="translate(65.41,162.69) scale(0.88,1)">0.63</text>
<text transform="translate(75.84,162.69) scale(0.88,1)">0.64</text>
<text transform="translate(86.27,162.69) scale(0.88,1)">0.54</text>
<text transform="translate(96.69,162.69) scale(0.88,1)">0.62</text>
<text transform="translate(107.12,162.69) scale(0.88,1)">0.57</text>
<text transform="translate(117.56,162.69) scale(0.88,1)">0.56</text>
<text transform="translate(127.99,162.69) scale(0.88,1)">0.90</text>
<text transform="translate(138.41,162.69) scale(0.88,1)">0.89</text>
<text transform="translate(148.84,162.69) scale(0.88,1)">0.93</text>
<text transform="translate(159.28,162.69) scale(0.88,1)">0.92</text>
<text transform="translate(169.71,162.69) scale(0.88,1)">0.97</text>
<text transform="translate(180.13,162.69) scale(0.88,1)">1.00</text>
<text transform="translate(190.56,162.69) scale(0.88,1)">0.90</text>
<text transform="translate(201.00,162.69) scale(0.88,1)">0.87</text>
<text transform="translate(211.43,162.69) scale(0.88,1)">0.87</text>
<text transform="translate(34.11,173.10) scale(0.88,1)">0.70</text>
<text transform="translate(44.55,173.10) scale(0.88,1)">0.64</text>
<text transform="translate(54.97,173.10) scale(0.88,1)">0.59</text>
<text transform="translate(65.41,173.10) scale(0.88,1)">0.59</text>
<text transform="translate(75.84,173.10) scale(0.88,1)">0.58</text>
<text transform="translate(86.27,173.10) scale(0.88,1)">0.46</text>
<text transform="translate(96.69,173.10) scale(0.88,1)">0.55</text>
<text transform="translate(107.12,173.10) scale(0.88,1)">0.54</text>
<text transform="translate(117.56,173.10) scale(0.88,1)">0.53</text>
<text transform="translate(127.99,173.10) scale(0.88,1)">0.87</text>
<text transform="translate(138.41,173.10) scale(0.88,1)">0.85</text>
<text transform="translate(148.84,173.10) scale(0.88,1)">0.91</text>
<text transform="translate(159.28,173.10) scale(0.88,1)">0.81</text>
<text transform="translate(169.71,173.10) scale(0.88,1)">0.89</text>
<text transform="translate(180.13,173.10) scale(0.88,1)">0.90</text>
<text transform="translate(190.56,173.10) scale(0.88,1)">1.00</text>
<text transform="translate(201.00,173.10) scale(0.88,1)">0.93</text>
<text transform="translate(211.43,173.10) scale(0.88,1)">0.85</text>
<text transform="translate(34.11,183.51) scale(0.88,1)">0.69</text>
<text transform="translate(44.55,183.51) scale(0.88,1)">0.62</text>
<text transform="translate(54.97,183.51) scale(0.88,1)">0.57</text>
<text transform="translate(65.41,183.51) scale(0.88,1)">0.57</text>
<text transform="translate(75.84,183.51) scale(0.88,1)">0.62</text>
<text transform="translate(86.27,183.51) scale(0.88,1)">0.63</text>
<text transform="translate(96.69,183.51) scale(0.88,1)">0.64</text>
<text transform="translate(107.12,183.51) scale(0.88,1)">0.51</text>
<text transform="translate(117.56,183.51) scale(0.88,1)">0.50</text>
<text transform="translate(127.99,183.51) scale(0.88,1)">0.78</text>
<text transform="translate(138.41,183.51) scale(0.88,1)">0.76</text>
<text transform="translate(148.84,183.51) scale(0.88,1)">0.83</text>
<text transform="translate(159.28,183.51) scale(0.88,1)">0.75</text>
<text transform="translate(169.71,183.51) scale(0.88,1)">0.87</text>
<text transform="translate(180.13,183.51) scale(0.88,1)">0.87</text>
<text transform="translate(190.56,183.51) scale(0.88,1)">0.93</text>
<text transform="translate(201.00,183.51) scale(0.88,1)">1.00</text>
<text transform="translate(211.43,183.51) scale(0.88,1)">0.91</text>
<text transform="translate(34.11,193.92) scale(0.88,1)">0.66</text>
<text transform="translate(44.55,193.92) scale(0.88,1)">0.60</text>
<text transform="translate(54.97,193.92) scale(0.88,1)">0.54</text>
<text transform="translate(65.41,193.92) scale(0.88,1)">0.58</text>
<text transform="translate(75.84,193.92) scale(0.88,1)">0.66</text>
<text transform="translate(86.27,193.92) scale(0.88,1)">0.68</text>
<text transform="translate(96.69,193.92) scale(0.88,1)">0.68</text>
<text transform="translate(107.12,193.92) scale(0.88,1)">0.51</text>
<text transform="translate(117.56,193.92) scale(0.88,1)">0.51</text>
<text transform="translate(127.99,193.92) scale(0.88,1)">0.86</text>
<text transform="translate(138.41,193.92) scale(0.88,1)">0.87</text>
<text transform="translate(148.84,193.92) scale(0.88,1)">0.89</text>
<text transform="translate(159.28,193.92) scale(0.88,1)">0.83</text>
<text transform="translate(169.71,193.92) scale(0.88,1)">0.86</text>
<text transform="translate(180.13,193.92) scale(0.88,1)">0.87</text>
<text transform="translate(190.56,193.92) scale(0.88,1)">0.85</text>
<text transform="translate(201.00,193.92) scale(0.88,1)">0.91</text>
<text transform="translate(211.43,193.92) scale(0.88,1)">1.00</text>
</g>
<g class="rl" style="font-size:6.0px">
<text transform="translate(218.04,16.79) scale(0.92,1)">SQSLLT1d-1</text>
<text transform="translate(218.04,27.19) scale(0.92,1)">SQSLLT1d-2</text>
<text transform="translate(218.04,37.60) scale(0.92,1)">SQSLLT1d-3</text>
<text transform="translate(218.04,48.01) scale(0.92,1)">SQSLLT3d-1</text>
<text transform="translate(218.04,58.42) scale(0.92,1)">SQSLLT3d-2</text>
<text transform="translate(218.04,68.84) scale(0.92,1)">SQSLLT3d-3</text>
<text transform="translate(218.04,79.25) scale(0.92,1)">SQSLLT5d-1</text>
<text transform="translate(218.04,89.66) scale(0.92,1)">SQSLLT5d-2</text>
<text transform="translate(218.04,100.06) scale(0.92,1)">SQSLLT5d-3</text>
<text transform="translate(218.04,110.47) scale(0.92,1)">SQSLOT1d-1</text>
<text transform="translate(218.04,120.88) scale(0.92,1)">SQSLOT1d-2</text>
<text transform="translate(218.04,131.29) scale(0.92,1)">SQSLOT1d-3</text>
<text transform="translate(218.04,141.71) scale(0.92,1)">SQSLOT3d-1</text>
<text transform="translate(218.04,152.12) scale(0.92,1)">SQSLOT3d-2</text>
<text transform="translate(218.04,162.53) scale(0.92,1)">SQSLOT3d-3</text>
<text transform="translate(218.04,172.94) scale(0.92,1)">SQSLOT5d-1</text>
<text transform="translate(218.04,183.34) scale(0.92,1)">SQSLOT5d-2</text>
<text transform="translate(218.04,193.75) scale(0.92,1)">SQSLOT5d-3</text>
</g>
<g class="cl" style="font-size:6.0px">
<text transform="translate(36.71,201.58) rotate(-45) scale(0.92,1)">SQSLLT1d-1</text>
<text transform="translate(47.15,201.58) rotate(-45) scale(0.92,1)">SQSLLT1d-2</text>
<text transform="translate(57.57,201.58) rotate(-45) scale(0.92,1)">SQSLLT1d-3</text>
<text transform="translate(68.00,201.58) rotate(-45) scale(0.92,1)">SQSLLT3d-1</text>
<text transform="translate(78.44,201.58) rotate(-45) scale(0.92,1)">SQSLLT3d-2</text>
<text transform="translate(88.86,201.58) rotate(-45) scale(0.92,1)">SQSLLT3d-3</text>
<text transform="translate(99.29,201.58) rotate(-45) scale(0.92,1)">SQSLLT5d-1</text>
<text transform="translate(109.72,201.58) rotate(-45) scale(0.92,1)">SQSLLT5d-2</text>
<text transform="translate(120.16,201.58) rotate(-45) scale(0.92,1)">SQSLLT5d-3</text>
<text transform="translate(130.59,201.58) rotate(-45) scale(0.92,1)">SQSLOT1d-1</text>
<text transform="translate(141.01,201.58) rotate(-45) scale(0.92,1)">SQSLOT1d-2</text>
<text transform="translate(151.44,201.58) rotate(-45) scale(0.92,1)">SQSLOT1d-3</text>
<text transform="translate(161.88,201.58) rotate(-45) scale(0.92,1)">SQSLOT3d-1</text>
<text transform="translate(172.31,201.58) rotate(-45) scale(0.92,1)">SQSLOT3d-2</text>
<text transform="translate(182.73,201.58) rotate(-45) scale(0.92,1)">SQSLOT3d-3</text>
<text transform="translate(193.16,201.58) rotate(-45) scale(0.92,1)">SQSLOT5d-1</text>
<text transform="translate(203.59,201.58) rotate(-45) scale(0.92,1)">SQSLOT5d-2</text>
<text transform="translate(214.03,201.58) rotate(-45) scale(0.92,1)">SQSLOT5d-3</text>
</g>
</g>
<g>
<rect x="310.80" y="10.90" width="10.32" height="10.28" fill="#d12f26"/>
<rect x="321.12" y="10.90" width="10.32" height="10.28" fill="#ed623d"/>
<rect x="331.44" y="10.90" width="10.32" height="10.28" fill="#e65134"/>
<rect x="341.76" y="10.90" width="10.32" height="10.28" fill="#fdc777"/>
<rect x="352.08" y="10.90" width="10.32" height="10.28" fill="#fdb76e"/>
<rect x="362.40" y="10.90" width="10.32" height="10.28" fill="#fecd7b"/>
<rect x="372.72" y="10.90" width="10.32" height="10.28" fill="#fff1a0"/>
<rect x="383.04" y="10.90" width="10.32" height="10.28" fill="#fff5a5"/>
<rect x="393.36" y="10.90" width="10.32" height="10.28" fill="#fff7a8"/>
<rect x="403.68" y="10.90" width="10.32" height="10.28" fill="#dbf1e7"/>
<rect x="414.00" y="10.90" width="10.32" height="10.28" fill="#d7f0f1"/>
<rect x="424.32" y="10.90" width="10.32" height="10.28" fill="#cbe8f2"/>
<rect x="434.64" y="10.90" width="10.32" height="10.28" fill="#d7f0f1"/>
<rect x="444.96" y="10.90" width="10.32" height="10.28" fill="#e7f6d4"/>
<rect x="455.28" y="10.90" width="10.32" height="10.28" fill="#d0ebf3"/>
<rect x="465.60" y="10.90" width="10.32" height="10.28" fill="#d0ebf3"/>
<rect x="475.92" y="10.90" width="10.32" height="10.28" fill="#daf1ec"/>
<rect x="486.24" y="10.90" width="10.32" height="10.28" fill="#d7f0f1"/>
<rect x="310.80" y="21.18" width="10.32" height="10.28" fill="#ed623d"/>
<rect x="321.12" y="21.18" width="10.32" height="10.28" fill="#d12f26"/>
<rect x="331.44" y="21.18" width="10.32" height="10.28" fill="#dd3b29"/>
<rect x="341.76" y="21.18" width="10.32" height="10.28" fill="#fee38c"/>
<rect x="352.08" y="21.18" width="10.32" height="10.28" fill="#fff3a2"/>
<rect x="362.40" y="21.18" width="10.32" height="10.28" fill="#fee58f"/>
<rect x="372.72" y="21.18" width="10.32" height="10.28" fill="#feed9a"/>
<rect x="383.04" y="21.18" width="10.32" height="10.28" fill="#fff1a0"/>
<rect x="393.36" y="21.18" width="10.32" height="10.28" fill="#fff1a0"/>
<rect x="403.68" y="21.18" width="10.32" height="10.28" fill="#cbe8f2"/>
<rect x="414.00" y="21.18" width="10.32" height="10.28" fill="#d0ebf3"/>
<rect x="424.32" y="21.18" width="10.32" height="10.28" fill="#cbe8f2"/>
<rect x="434.64" y="21.18" width="10.32" height="10.28" fill="#c7e4f0"/>
<rect x="444.96" y="21.18" width="10.32" height="10.28" fill="#c7e4f0"/>
<rect x="455.28" y="21.18" width="10.32" height="10.28" fill="#cbe8f2"/>
<rect x="465.60" y="21.18" width="10.32" height="10.28" fill="#d0ebf3"/>
<rect x="475.92" y="21.18" width="10.32" height="10.28" fill="#daf1ec"/>
<rect x="486.24" y="21.18" width="10.32" height="10.28" fill="#d0ebf3"/>
<rect x="310.80" y="31.46" width="10.32" height="10.28" fill="#e65134"/>
<rect x="321.12" y="31.46" width="10.32" height="10.28" fill="#dd3b29"/>
<rect x="331.44" y="31.46" width="10.32" height="10.28" fill="#d12f26"/>
<rect x="341.76" y="31.46" width="10.32" height="10.28" fill="#fed781"/>
<rect x="352.08" y="31.46" width="10.32" height="10.28" fill="#fee38c"/>
<rect x="362.40" y="31.46" width="10.32" height="10.28" fill="#fee18a"/>
<rect x="372.72" y="31.46" width="10.32" height="10.28" fill="#fee995"/>
<rect x="383.04" y="31.46" width="10.32" height="10.28" fill="#feed9a"/>
<rect x="393.36" y="31.46" width="10.32" height="10.28" fill="#feed9a"/>
<rect x="403.68" y="31.46" width="10.32" height="10.28" fill="#ddf2e1"/>
<rect x="414.00" y="31.46" width="10.32" height="10.28" fill="#ddf2e1"/>
<rect x="424.32" y="31.46" width="10.32" height="10.28" fill="#daf1ec"/>
<rect x="434.64" y="31.46" width="10.32" height="10.28" fill="#daf1ec"/>
<rect x="444.96" y="31.46" width="10.32" height="10.28" fill="#e3f4d8"/>
<rect x="455.28" y="31.46" width="10.32" height="10.28" fill="#daf1ec"/>
<rect x="465.60" y="31.46" width="10.32" height="10.28" fill="#ddf2e1"/>
<rect x="475.92" y="31.46" width="10.32" height="10.28" fill="#e3f4d8"/>
<rect x="486.24" y="31.46" width="10.32" height="10.28" fill="#dbf1e7"/>
<rect x="310.80" y="41.74" width="10.32" height="10.28" fill="#fdc777"/>
<rect x="321.12" y="41.74" width="10.32" height="10.28" fill="#fee38c"/>
<rect x="331.44" y="41.74" width="10.32" height="10.28" fill="#fed781"/>
<rect x="341.76" y="41.74" width="10.32" height="10.28" fill="#d12f26"/>
<rect x="352.08" y="41.74" width="10.32" height="10.28" fill="#f16d42"/>
<rect x="362.40" y="41.74" width="10.32" height="10.28" fill="#e65134"/>
<rect x="372.72" y="41.74" width="10.32" height="10.28" fill="#e85637"/>
<rect x="383.04" y="41.74" width="10.32" height="10.28" fill="#ed623d"/>
<rect x="393.36" y="41.74" width="10.32" height="10.28" fill="#f16d42"/>
<rect x="403.68" y="41.74" width="10.32" height="10.28" fill="#70a2cb"/>
<rect x="414.00" y="41.74" width="10.32" height="10.28" fill="#6394c4"/>
<rect x="424.32" y="41.74" width="10.32" height="10.28" fill="#5a8bc0"/>
<rect x="434.64" y="41.74" width="10.32" height="10.28" fill="#6394c4"/>
<rect x="444.96" y="41.74" width="10.32" height="10.28" fill="#79abd0"/>
<rect x="455.28" y="41.74" width="10.32" height="10.28" fill="#5f90c2"/>
<rect x="465.60" y="41.74" width="10.32" height="10.28" fill="#6394c4"/>
<rect x="475.92" y="41.74" width="10.32" height="10.28" fill="#70a2cb"/>
<rect x="486.24" y="41.74" width="10.32" height="10.28" fill="#6394c4"/>
<rect x="310.80" y="52.02" width="10.32" height="10.28" fill="#fdb76e"/>
<rect x="321.12" y="52.02" width="10.32" height="10.28" fill="#fff3a2"/>
<rect x="331.44" y="52.02" width="10.32" height="10.28" fill="#fee38c"/>
<rect x="341.76" y="52.02" width="10.32" height="10.28" fill="#f16d42"/>
<rect x="352.08" y="52.02" width="10.32" height="10.28" fill="#d12f26"/>
<rect x="362.40" y="52.02" width="10.32" height="10.28" fill="#e34b32"/>
<rect x="372.72" y="52.02" width="10.32" height="10.28" fill="#fdc777"/>
<rect x="383.04" y="52.02" width="10.32" height="10.28" fill="#fecd7b"/>
<rect x="393.36" y="52.02" width="10.32" height="10.28" fill="#fed781"/>
<rect x="403.68" y="52.02" width="10.32" height="10.28" fill="#90bfdb"/>
<rect x="414.00" y="52.02" width="10.32" height="10.28" fill="#82b3d5"/>
<rect x="424.32" y="52.02" width="10.32" height="10.28" fill="#75a6ce"/>
<rect x="434.64" y="52.02" width="10.32" height="10.28" fill="#8bbcd9"/>
<rect x="444.96" y="52.02" width="10.32" height="10.28" fill="#cbe8f2"/>
<rect x="455.28" y="52.02" width="10.32" height="10.28" fill="#87b8d7"/>
<rect x="465.60" y="52.02" width="10.32" height="10.28" fill="#82b3d5"/>
<rect x="475.92" y="52.02" width="10.32" height="10.28" fill="#8bbcd9"/>
<rect x="486.24" y="52.02" width="10.32" height="10.28" fill="#82b3d5"/>
<rect x="310.80" y="62.30" width="10.32" height="10.28" fill="#fecd7b"/>
<rect x="321.12" y="62.30" width="10.32" height="10.28" fill="#fee58f"/>
<rect x="331.44" y="62.30" width="10.32" height="10.28" fill="#fee18a"/>
<rect x="341.76" y="62.30" width="10.32" height="10.28" fill="#e65134"/>
<rect x="352.08" y="62.30" width="10.32" height="10.28" fill="#e34b32"/>
<rect x="362.40" y="62.30" width="10.32" height="10.28" fill="#d12f26"/>
<rect x="372.72" y="62.30" width="10.32" height="10.28" fill="#f16d42"/>
<rect x="383.04" y="62.30" width="10.32" height="10.28" fill="#f47245"/>
<rect x="393.36" y="62.30" width="10.32" height="10.28" fill="#f87e4b"/>
<rect x="403.68" y="62.30" width="10.32" height="10.28" fill="#75a6ce"/>
<rect x="414.00" y="62.30" width="10.32" height="10.28" fill="#6c9dc9"/>
<rect x="424.32" y="62.30" width="10.32" height="10.28" fill="#5f90c2"/>
<rect x="434.64" y="62.30" width="10.32" height="10.28" fill="#6c9dc9"/>
<rect x="444.96" y="62.30" width="10.32" height="10.28" fill="#82b3d5"/>
<rect x="455.28" y="62.30" width="10.32" height="10.28" fill="#6c9dc9"/>
<rect x="465.60" y="62.30" width="10.32" height="10.28" fill="#6c9dc9"/>
<rect x="475.92" y="62.30" width="10.32" height="10.28" fill="#75a6ce"/>
<rect x="486.24" y="62.30" width="10.32" height="10.28" fill="#6c9dc9"/>
<rect x="310.80" y="72.58" width="10.32" height="10.28" fill="#fff1a0"/>
<rect x="321.12" y="72.58" width="10.32" height="10.28" fill="#feed9a"/>
<rect x="331.44" y="72.58" width="10.32" height="10.28" fill="#fee995"/>
<rect x="341.76" y="72.58" width="10.32" height="10.28" fill="#e85637"/>
<rect x="352.08" y="72.58" width="10.32" height="10.28" fill="#fdc777"/>
<rect x="362.40" y="72.58" width="10.32" height="10.28" fill="#f16d42"/>
<rect x="372.72" y="72.58" width="10.32" height="10.28" fill="#d12f26"/>
<rect x="383.04" y="72.58" width="10.32" height="10.28" fill="#da3526"/>
<rect x="393.36" y="72.58" width="10.32" height="10.28" fill="#d63226"/>
<rect x="403.68" y="72.58" width="10.32" height="10.28" fill="#4d7eb9"/>
<rect x="414.00" y="72.58" width="10.32" height="10.28" fill="#497ab6"/>
<rect x="424.32" y="72.58" width="10.32" height="10.28" fill="#4776b1"/>
<rect x="434.64" y="72.58" width="10.32" height="10.28" fill="#497ab6"/>
<rect x="444.96" y="72.58" width="10.32" height="10.28" fill="#497ab6"/>
<rect x="455.28" y="72.58" width="10.32" height="10.28" fill="#4776b1"/>
<rect x="465.60" y="72.58" width="10.32" height="10.28" fill="#4371af"/>
<rect x="475.92" y="72.58" width="10.32" height="10.28" fill="#497ab6"/>
<rect x="486.24" y="72.58" width="10.32" height="10.28" fill="#4371af"/>
<rect x="310.80" y="82.86" width="10.32" height="10.28" fill="#fff5a5"/>
<rect x="321.12" y="82.86" width="10.32" height="10.28" fill="#fff1a0"/>
<rect x="331.44" y="82.86" width="10.32" height="10.28" fill="#feed9a"/>
<rect x="341.76" y="82.86" width="10.32" height="10.28" fill="#ed623d"/>
<rect x="352.08" y="82.86" width="10.32" height="10.28" fill="#fecd7b"/>
<rect x="362.40" y="82.86" width="10.32" height="10.28" fill="#f47245"/>
<rect x="372.72" y="82.86" width="10.32" height="10.28" fill="#da3526"/>
<rect x="383.04" y="82.86" width="10.32" height="10.28" fill="#d12f26"/>
<rect x="393.36" y="82.86" width="10.32" height="10.28" fill="#d12f26"/>
<rect x="403.68" y="82.86" width="10.32" height="10.28" fill="#4371af"/>
<rect x="414.00" y="82.86" width="10.32" height="10.28" fill="#4371af"/>
<rect x="424.32" y="82.86" width="10.32" height="10.28" fill="#4371af"/>
<rect x="434.64" y="82.86" width="10.32" height="10.28" fill="#4776b1"/>
<rect x="444.96" y="82.86" width="10.32" height="10.28" fill="#4776b1"/>
<rect x="455.28" y="82.86" width="10.32" height="10.28" fill="#4371af"/>
<rect x="465.60" y="82.86" width="10.32" height="10.28" fill="#4371af"/>
<rect x="475.92" y="82.86" width="10.32" height="10.28" fill="#4d7eb9"/>
<rect x="486.24" y="82.86" width="10.32" height="10.28" fill="#4371af"/>
<rect x="310.80" y="93.14" width="10.32" height="10.28" fill="#fff7a8"/>
<rect x="321.12" y="93.14" width="10.32" height="10.28" fill="#fff1a0"/>
<rect x="331.44" y="93.14" width="10.32" height="10.28" fill="#feed9a"/>
<rect x="341.76" y="93.14" width="10.32" height="10.28" fill="#f16d42"/>
<rect x="352.08" y="93.14" width="10.32" height="10.28" fill="#fed781"/>
<rect x="362.40" y="93.14" width="10.32" height="10.28" fill="#f87e4b"/>
<rect x="372.72" y="93.14" width="10.32" height="10.28" fill="#d63226"/>
<rect x="383.04" y="93.14" width="10.32" height="10.28" fill="#d12f26"/>
<rect x="393.36" y="93.14" width="10.32" height="10.28" fill="#d12f26"/>
<rect x="403.68" y="93.14" width="10.32" height="10.28" fill="#4371af"/>
<rect x="414.00" y="93.14" width="10.32" height="10.28" fill="#4776b1"/>
<rect x="424.32" y="93.14" width="10.32" height="10.28" fill="#4371af"/>
<rect x="434.64" y="93.14" width="10.32" height="10.28" fill="#4371af"/>
<rect x="444.96" y="93.14" width="10.32" height="10.28" fill="#4371af"/>
<rect x="455.28" y="93.14" width="10.32" height="10.28" fill="#4371af"/>
<rect x="465.60" y="93.14" width="10.32" height="10.28" fill="#4371af"/>
<rect x="475.92" y="93.14" width="10.32" height="10.28" fill="#4371af"/>
<rect x="486.24" y="93.14" width="10.32" height="10.28" fill="#4776b1"/>
<rect x="310.80" y="103.42" width="10.32" height="10.28" fill="#dbf1e7"/>
<rect x="321.12" y="103.42" width="10.32" height="10.28" fill="#cbe8f2"/>
<rect x="331.44" y="103.42" width="10.32" height="10.28" fill="#ddf2e1"/>
<rect x="341.76" y="103.42" width="10.32" height="10.28" fill="#70a2cb"/>
<rect x="352.08" y="103.42" width="10.32" height="10.28" fill="#90bfdb"/>
<rect x="362.40" y="103.42" width="10.32" height="10.28" fill="#75a6ce"/>
<rect x="372.72" y="103.42" width="10.32" height="10.28" fill="#4d7eb9"/>
<rect x="383.04" y="103.42" width="10.32" height="10.28" fill="#4371af"/>
<rect x="393.36" y="103.42" width="10.32" height="10.28" fill="#4371af"/>
<rect x="403.68" y="103.42" width="10.32" height="10.28" fill="#d12f26"/>
<rect x="414.00" y="103.42" width="10.32" height="10.28" fill="#dd3b29"/>
<rect x="424.32" y="103.42" width="10.32" height="10.28" fill="#e1462f"/>
<rect x="434.64" y="103.42" width="10.32" height="10.28" fill="#e85637"/>
<rect x="444.96" y="103.42" width="10.32" height="10.28" fill="#f16d42"/>
<rect x="455.28" y="103.42" width="10.32" height="10.28" fill="#e85637"/>
<rect x="465.60" y="103.42" width="10.32" height="10.28" fill="#e1462f"/>
<rect x="475.92" y="103.42" width="10.32" height="10.28" fill="#e1462f"/>
<rect x="486.24" y="103.42" width="10.32" height="10.28" fill="#dd3b29"/>
<rect x="310.80" y="113.70" width="10.32" height="10.28" fill="#d7f0f1"/>
<rect x="321.12" y="113.70" width="10.32" height="10.28" fill="#d0ebf3"/>
<rect x="331.44" y="113.70" width="10.32" height="10.28" fill="#ddf2e1"/>
<rect x="341.76" y="113.70" width="10.32" height="10.28" fill="#6394c4"/>
<rect x="352.08" y="113.70" width="10.32" height="10.28" fill="#82b3d5"/>
<rect x="362.40" y="113.70" width="10.32" height="10.28" fill="#6c9dc9"/>
<rect x="372.72" y="113.70" width="10.32" height="10.28" fill="#497ab6"/>
<rect x="383.04" y="113.70" width="10.32" height="10.28" fill="#4371af"/>
<rect x="393.36" y="113.70" width="10.32" height="10.28" fill="#4776b1"/>
<rect x="403.68" y="113.70" width="10.32" height="10.28" fill="#dd3b29"/>
<rect x="414.00" y="113.70" width="10.32" height="10.28" fill="#d12f26"/>
<rect x="424.32" y="113.70" width="10.32" height="10.28" fill="#d63226"/>
<rect x="434.64" y="113.70" width="10.32" height="10.28" fill="#fb834e"/>
<rect x="444.96" y="113.70" width="10.32" height="10.28" fill="#fc9d5d"/>
<rect x="455.28" y="113.70" width="10.32" height="10.28" fill="#fb834e"/>
<rect x="465.60" y="113.70" width="10.32" height="10.28" fill="#ef6740"/>
<rect x="475.92" y="113.70" width="10.32" height="10.28" fill="#e85637"/>
<rect x="486.24" y="113.70" width="10.32" height="10.28" fill="#e85637"/>
<rect x="310.80" y="123.98" width="10.32" height="10.28" fill="#cbe8f2"/>
<rect x="321.12" y="123.98" width="10.32" height="10.28" fill="#cbe8f2"/>
<rect x="331.44" y="123.98" width="10.32" height="10.28" fill="#daf1ec"/>
<rect x="341.76" y="123.98" width="10.32" height="10.28" fill="#5a8bc0"/>
<rect x="352.08" y="123.98" width="10.32" height="10.28" fill="#75a6ce"/>
<rect x="362.40" y="123.98" width="10.32" height="10.28" fill="#5f90c2"/>
<rect x="372.72" y="123.98" width="10.32" height="10.28" fill="#4776b1"/>
<rect x="383.04" y="123.98" width="10.32" height="10.28" fill="#4371af"/>
<rect x="393.36" y="123.98" width="10.32" height="10.28" fill="#4371af"/>
<rect x="403.68" y="123.98" width="10.32" height="10.28" fill="#e1462f"/>
<rect x="414.00" y="123.98" width="10.32" height="10.28" fill="#d63226"/>
<rect x="424.32" y="123.98" width="10.32" height="10.28" fill="#d12f26"/>
<rect x="434.64" y="123.98" width="10.32" height="10.28" fill="#fc8e54"/>
<rect x="444.96" y="123.98" width="10.32" height="10.28" fill="#fdb26a"/>
<rect x="455.28" y="123.98" width="10.32" height="10.28" fill="#fc985a"/>
<rect x="465.60" y="123.98" width="10.32" height="10.28" fill="#f16d42"/>
<rect x="475.92" y="123.98" width="10.32" height="10.28" fill="#ed623d"/>
<rect x="486.24" y="123.98" width="10.32" height="10.28" fill="#ed623d"/>
<rect x="310.80" y="134.26" width="10.32" height="10.28" fill="#d7f0f1"/>
<rect x="321.12" y="134.26" width="10.32" height="10.28" fill="#c7e4f0"/>
<rect x="331.44" y="134.26" width="10.32" height="10.28" fill="#daf1ec"/>
<rect x="341.76" y="134.26" width="10.32" height="10.28" fill="#6394c4"/>
<rect x="352.08" y="134.26" width="10.32" height="10.28" fill="#8bbcd9"/>
<rect x="362.40" y="134.26" width="10.32" height="10.28" fill="#6c9dc9"/>
<rect x="372.72" y="134.26" width="10.32" height="10.28" fill="#497ab6"/>
<rect x="383.04" y="134.26" width="10.32" height="10.28" fill="#4776b1"/>
<rect x="393.36" y="134.26" width="10.32" height="10.28" fill="#4371af"/>
<rect x="403.68" y="134.26" width="10.32" height="10.28" fill="#e85637"/>
<rect x="414.00" y="134.26" width="10.32" height="10.28" fill="#fb834e"/>
<rect x="424.32" y="134.26" width="10.32" height="10.28" fill="#fc8e54"/>
<rect x="434.64" y="134.26" width="10.32" height="10.28" fill="#d12f26"/>
<rect x="444.96" y="134.26" width="10.32" height="10.28" fill="#e1462f"/>
<rect x="455.28" y="134.26" width="10.32" height="10.28" fill="#d63226"/>
<rect x="465.60" y="134.26" width="10.32" height="10.28" fill="#ef6740"/>
<rect x="475.92" y="134.26" width="10.32" height="10.28" fill="#ed623d"/>
<rect x="486.24" y="134.26" width="10.32" height="10.28" fill="#e85637"/>
<rect x="310.80" y="144.54" width="10.32" height="10.28" fill="#e7f6d4"/>
<rect x="321.12" y="144.54" width="10.32" height="10.28" fill="#c7e4f0"/>
<rect x="331.44" y="144.54" width="10.32" height="10.28" fill="#e3f4d8"/>
<rect x="341.76" y="144.54" width="10.32" height="10.28" fill="#79abd0"/>
<rect x="352.08" y="144.54" width="10.32" height="10.28" fill="#cbe8f2"/>
<rect x="362.40" y="144.54" width="10.32" height="10.28" fill="#82b3d5"/>
<rect x="372.72" y="144.54" width="10.32" height="10.28" fill="#497ab6"/>
<rect x="383.04" y="144.54" width="10.32" height="10.28" fill="#4776b1"/>
<rect x="393.36" y="144.54" width="10.32" height="10.28" fill="#4371af"/>
<rect x="403.68" y="144.54" width="10.32" height="10.28" fill="#f16d42"/>
<rect x="414.00" y="144.54" width="10.32" height="10.28" fill="#fc9d5d"/>
<rect x="424.32" y="144.54" width="10.32" height="10.28" fill="#fdb26a"/>
<rect x="434.64" y="144.54" width="10.32" height="10.28" fill="#e1462f"/>
<rect x="444.96" y="144.54" width="10.32" height="10.28" fill="#d12f26"/>
<rect x="455.28" y="144.54" width="10.32" height="10.28" fill="#e34b32"/>
<rect x="465.60" y="144.54" width="10.32" height="10.28" fill="#f87e4b"/>
<rect x="475.92" y="144.54" width="10.32" height="10.28" fill="#f47245"/>
<rect x="486.24" y="144.54" width="10.32" height="10.28" fill="#f47245"/>
<rect x="310.80" y="154.82" width="10.32" height="10.28" fill="#d0ebf3"/>
<rect x="321.12" y="154.82" width="10.32" height="10.28" fill="#cbe8f2"/>
<rect x="331.44" y="154.82" width="10.32" height="10.28" fill="#daf1ec"/>
<rect x="341.76" y="154.82" width="10.32" height="10.28" fill="#5f90c2"/>
<rect x="352.08" y="154.82" width="10.32" height="10.28" fill="#87b8d7"/>
<rect x="362.40" y="154.82" width="10.32" height="10.28" fill="#6c9dc9"/>
<rect x="372.72" y="154.82" width="10.32" height="10.28" fill="#4776b1"/>
<rect x="383.04" y="154.82" width="10.32" height="10.28" fill="#4371af"/>
<rect x="393.36" y="154.82" width="10.32" height="10.28" fill="#4371af"/>
<rect x="403.68" y="154.82" width="10.32" height="10.28" fill="#e85637"/>
<rect x="414.00" y="154.82" width="10.32" height="10.28" fill="#fb834e"/>
<rect x="424.32" y="154.82" width="10.32" height="10.28" fill="#fc985a"/>
<rect x="434.64" y="154.82" width="10.32" height="10.28" fill="#d63226"/>
<rect x="444.96" y="154.82" width="10.32" height="10.28" fill="#e34b32"/>
<rect x="455.28" y="154.82" width="10.32" height="10.28" fill="#d12f26"/>
<rect x="465.60" y="154.82" width="10.32" height="10.28" fill="#e65134"/>
<rect x="475.92" y="154.82" width="10.32" height="10.28" fill="#e85637"/>
<rect x="486.24" y="154.82" width="10.32" height="10.28" fill="#e65134"/>
<rect x="310.80" y="165.10" width="10.32" height="10.28" fill="#d0ebf3"/>
<rect x="321.12" y="165.10" width="10.32" height="10.28" fill="#d0ebf3"/>
<rect x="331.44" y="165.10" width="10.32" height="10.28" fill="#ddf2e1"/>
<rect x="341.76" y="165.10" width="10.32" height="10.28" fill="#6394c4"/>
<rect x="352.08" y="165.10" width="10.32" height="10.28" fill="#82b3d5"/>
<rect x="362.40" y="165.10" width="10.32" height="10.28" fill="#6c9dc9"/>
<rect x="372.72" y="165.10" width="10.32" height="10.28" fill="#4371af"/>
<rect x="383.04" y="165.10" width="10.32" height="10.28" fill="#4371af"/>
<rect x="393.36" y="165.10" width="10.32" height="10.28" fill="#4371af"/>
<rect x="403.68" y="165.10" width="10.32" height="10.28" fill="#e1462f"/>
<rect x="414.00" y="165.10" width="10.32" height="10.28" fill="#ef6740"/>
<rect x="424.32" y="165.10" width="10.32" height="10.28" fill="#f16d42"/>
<rect x="434.64" y="165.10" width="10.32" height="10.28" fill="#ef6740"/>
<rect x="444.96" y="165.10" width="10.32" height="10.28" fill="#f87e4b"/>
<rect x="455.28" y="165.10" width="10.32" height="10.28" fill="#e65134"/>
<rect x="465.60" y="165.10" width="10.32" height="10.28" fill="#d12f26"/>
<rect x="475.92" y="165.10" width="10.32" height="10.28" fill="#d63226"/>
<rect x="486.24" y="165.10" width="10.32" height="10.28" fill="#d63226"/>
<rect x="310.80" y="175.38" width="10.32" height="10.28" fill="#daf1ec"/>
<rect x="321.12" y="175.38" width="10.32" height="10.28" fill="#daf1ec"/>
<rect x="331.44" y="175.38" width="10.32" height="10.28" fill="#e3f4d8"/>
<rect x="341.76" y="175.38" width="10.32" height="10.28" fill="#70a2cb"/>
<rect x="352.08" y="175.38" width="10.32" height="10.28" fill="#8bbcd9"/>
<rect x="362.40" y="175.38" width="10.32" height="10.28" fill="#75a6ce"/>
<rect x="372.72" y="175.38" width="10.32" height="10.28" fill="#497ab6"/>
<rect x="383.04" y="175.38" width="10.32" height="10.28" fill="#4d7eb9"/>
<rect x="393.36" y="175.38" width="10.32" height="10.28" fill="#4371af"/>
<rect x="403.68" y="175.38" width="10.32" height="10.28" fill="#e1462f"/>
<rect x="414.00" y="175.38" width="10.32" height="10.28" fill="#e85637"/>
<rect x="424.32" y="175.38" width="10.32" height="10.28" fill="#ed623d"/>
<rect x="434.64" y="175.38" width="10.32" height="10.28" fill="#ed623d"/>
<rect x="444.96" y="175.38" width="10.32" height="10.28" fill="#f47245"/>
<rect x="455.28" y="175.38" width="10.32" height="10.28" fill="#e85637"/>
<rect x="465.60" y="175.38" width="10.32" height="10.28" fill="#d63226"/>
<rect x="475.92" y="175.38" width="10.32" height="10.28" fill="#d12f26"/>
<rect x="486.24" y="175.38" width="10.32" height="10.28" fill="#d63226"/>
<rect x="310.80" y="185.66" width="10.32" height="10.28" fill="#d7f0f1"/>
<rect x="321.12" y="185.66" width="10.32" height="10.28" fill="#d0ebf3"/>
<rect x="331.44" y="185.66" width="10.32" height="10.28" fill="#dbf1e7"/>
<rect x="341.76" y="185.66" width="10.32" height="10.28" fill="#6394c4"/>
<rect x="352.08" y="185.66" width="10.32" height="10.28" fill="#82b3d5"/>
<rect x="362.40" y="185.66" width="10.32" height="10.28" fill="#6c9dc9"/>
<rect x="372.72" y="185.66" width="10.32" height="10.28" fill="#4371af"/>
<rect x="383.04" y="185.66" width="10.32" height="10.28" fill="#4371af"/>
<rect x="393.36" y="185.66" width="10.32" height="10.28" fill="#4776b1"/>
<rect x="403.68" y="185.66" width="10.32" height="10.28" fill="#dd3b29"/>
<rect x="414.00" y="185.66" width="10.32" height="10.28" fill="#e85637"/>
<rect x="424.32" y="185.66" width="10.32" height="10.28" fill="#ed623d"/>
<rect x="434.64" y="185.66" width="10.32" height="10.28" fill="#e85637"/>
<rect x="444.96" y="185.66" width="10.32" height="10.28" fill="#f47245"/>
<rect x="455.28" y="185.66" width="10.32" height="10.28" fill="#e65134"/>
<rect x="465.60" y="185.66" width="10.32" height="10.28" fill="#d63226"/>
<rect x="475.92" y="185.66" width="10.32" height="10.28" fill="#d63226"/>
<rect x="486.24" y="185.66" width="10.32" height="10.28" fill="#d12f26"/>
<line x1="310.80" y1="10.90" x2="310.80" y2="195.94" class="gl"/>
<line x1="310.80" y1="10.90" x2="496.56" y2="10.90" class="gl"/>
<line x1="321.12" y1="10.90" x2="321.12" y2="195.94" class="gl"/>
<line x1="310.80" y1="21.18" x2="496.56" y2="21.18" class="gl"/>
<line x1="331.44" y1="10.90" x2="331.44" y2="195.94" class="gl"/>
<line x1="310.80" y1="31.46" x2="496.56" y2="31.46" class="gl"/>
<line x1="341.76" y1="10.90" x2="341.76" y2="195.94" class="gl"/>
<line x1="310.80" y1="41.74" x2="496.56" y2="41.74" class="gl"/>
<line x1="352.08" y1="10.90" x2="352.08" y2="195.94" class="gl"/>
<line x1="310.80" y1="52.02" x2="496.56" y2="52.02" class="gl"/>
<line x1="362.40" y1="10.90" x2="362.40" y2="195.94" class="gl"/>
<line x1="310.80" y1="62.30" x2="496.56" y2="62.30" class="gl"/>
<line x1="372.72" y1="10.90" x2="372.72" y2="195.94" class="gl"/>
<line x1="310.80" y1="72.58" x2="496.56" y2="72.58" class="gl"/>
<line x1="383.04" y1="10.90" x2="383.04" y2="195.94" class="gl"/>
<line x1="310.80" y1="82.86" x2="496.56" y2="82.86" class="gl"/>
<line x1="393.36" y1="10.90" x2="393.36" y2="195.94" class="gl"/>
<line x1="310.80" y1="93.14" x2="496.56" y2="93.14" class="gl"/>
<line x1="403.68" y1="10.90" x2="403.68" y2="195.94" class="gl"/>
<line x1="310.80" y1="103.42" x2="496.56" y2="103.42" class="gl"/>
<line x1="414.00" y1="10.90" x2="414.00" y2="195.94" class="gl"/>
<line x1="310.80" y1="113.70" x2="496.56" y2="113.70" class="gl"/>
<line x1="424.32" y1="10.90" x2="424.32" y2="195.94" class="gl"/>
<line x1="310.80" y1="123.98" x2="496.56" y2="123.98" class="gl"/>
<line x1="434.64" y1="10.90" x2="434.64" y2="195.94" class="gl"/>
<line x1="310.80" y1="134.26" x2="496.56" y2="134.26" class="gl"/>
<line x1="444.96" y1="10.90" x2="444.96" y2="195.94" class="gl"/>
<line x1="310.80" y1="144.54" x2="496.56" y2="144.54" class="gl"/>
<line x1="455.28" y1="10.90" x2="455.28" y2="195.94" class="gl"/>
<line x1="310.80" y1="154.82" x2="496.56" y2="154.82" class="gl"/>
<line x1="465.60" y1="10.90" x2="465.60" y2="195.94" class="gl"/>
<line x1="310.80" y1="165.10" x2="496.56" y2="165.10" class="gl"/>
<line x1="475.92" y1="10.90" x2="475.92" y2="195.94" class="gl"/>
<line x1="310.80" y1="175.38" x2="496.56" y2="175.38" class="gl"/>
<line x1="486.24" y1="10.90" x2="486.24" y2="195.94" class="gl"/>
<line x1="310.80" y1="185.66" x2="496.56" y2="185.66" class="gl"/>
<line x1="496.56" y1="10.90" x2="496.56" y2="195.94" class="gl"/>
<line x1="310.80" y1="195.94" x2="496.56" y2="195.94" class="gl"/>
<g class="num" style="font-size:6.3px">
<text transform="translate(315.96,18.18) scale(0.88,1)">1.00</text>
<text transform="translate(326.28,18.18) scale(0.88,1)">0.92</text>
<text transform="translate(336.60,18.18) scale(0.88,1)">0.94</text>
<text transform="translate(346.92,18.18) scale(0.88,1)">0.77</text>
<text transform="translate(357.24,18.18) scale(0.88,1)">0.79</text>
<text transform="translate(367.56,18.18) scale(0.88,1)">0.76</text>
<text transform="translate(377.88,18.18) scale(0.88,1)">0.66</text>
<text transform="translate(388.20,18.18) scale(0.88,1)">0.64</text>
<text transform="translate(398.52,18.18) scale(0.88,1)">0.63</text>
<text transform="translate(408.84,18.18) scale(0.88,1)">0.50</text>
<text transform="translate(419.16,18.18) scale(0.88,1)">0.48</text>
<text transform="translate(429.48,18.18) scale(0.88,1)">0.46</text>
<text transform="translate(439.80,18.18) scale(0.88,1)">0.48</text>
<text transform="translate(450.12,18.18) scale(0.88,1)">0.53</text>
<text transform="translate(460.44,18.18) scale(0.88,1)">0.47</text>
<text transform="translate(470.76,18.18) scale(0.88,1)">0.47</text>
<text transform="translate(481.08,18.18) scale(0.88,1)">0.49</text>
<text transform="translate(491.40,18.18) scale(0.88,1)">0.48</text>
<text transform="translate(315.96,28.46) scale(0.88,1)">0.92</text>
<text transform="translate(326.28,28.46) scale(0.88,1)">1.00</text>
<text transform="translate(336.60,28.46) scale(0.88,1)">0.97</text>
<text transform="translate(346.92,28.46) scale(0.88,1)">0.71</text>
<text transform="translate(357.24,28.46) scale(0.88,1)">0.65</text>
<text transform="translate(367.56,28.46) scale(0.88,1)">0.70</text>
<text transform="translate(377.88,28.46) scale(0.88,1)">0.67</text>
<text transform="translate(388.20,28.46) scale(0.88,1)">0.66</text>
<text transform="translate(398.52,28.46) scale(0.88,1)">0.66</text>
<text transform="translate(408.84,28.46) scale(0.88,1)">0.46</text>
<text transform="translate(419.16,28.46) scale(0.88,1)">0.47</text>
<text transform="translate(429.48,28.46) scale(0.88,1)">0.46</text>
<text transform="translate(439.80,28.46) scale(0.88,1)">0.45</text>
<text transform="translate(450.12,28.46) scale(0.88,1)">0.45</text>
<text transform="translate(460.44,28.46) scale(0.88,1)">0.46</text>
<text transform="translate(470.76,28.46) scale(0.88,1)">0.47</text>
<text transform="translate(481.08,28.46) scale(0.88,1)">0.49</text>
<text transform="translate(491.40,28.46) scale(0.88,1)">0.47</text>
<text transform="translate(315.96,38.74) scale(0.88,1)">0.94</text>
<text transform="translate(326.28,38.74) scale(0.88,1)">0.97</text>
<text transform="translate(336.60,38.74) scale(0.88,1)">1.00</text>
<text transform="translate(346.92,38.74) scale(0.88,1)">0.74</text>
<text transform="translate(357.24,38.74) scale(0.88,1)">0.71</text>
<text transform="translate(367.56,38.74) scale(0.88,1)">0.72</text>
<text transform="translate(377.88,38.74) scale(0.88,1)">0.69</text>
<text transform="translate(388.20,38.74) scale(0.88,1)">0.67</text>
<text transform="translate(398.52,38.74) scale(0.88,1)">0.67</text>
<text transform="translate(408.84,38.74) scale(0.88,1)">0.51</text>
<text transform="translate(419.16,38.74) scale(0.88,1)">0.51</text>
<text transform="translate(429.48,38.74) scale(0.88,1)">0.49</text>
<text transform="translate(439.80,38.74) scale(0.88,1)">0.49</text>
<text transform="translate(450.12,38.74) scale(0.88,1)">0.52</text>
<text transform="translate(460.44,38.74) scale(0.88,1)">0.49</text>
<text transform="translate(470.76,38.74) scale(0.88,1)">0.51</text>
<text transform="translate(481.08,38.74) scale(0.88,1)">0.52</text>
<text transform="translate(491.40,38.74) scale(0.88,1)">0.50</text>
<text transform="translate(315.96,49.02) scale(0.88,1)">0.77</text>
<text transform="translate(326.28,49.02) scale(0.88,1)">0.71</text>
<text transform="translate(336.60,49.02) scale(0.88,1)">0.74</text>
<text transform="translate(346.92,49.02) scale(0.88,1)">1.00</text>
<text transform="translate(357.24,49.02) scale(0.88,1)">0.90</text>
<text transform="translate(367.56,49.02) scale(0.88,1)">0.94</text>
<text transform="translate(377.88,49.02) scale(0.88,1)">0.93</text>
<text transform="translate(388.20,49.02) scale(0.88,1)">0.92</text>
<text transform="translate(398.52,49.02) scale(0.88,1)">0.90</text>
<text transform="translate(408.84,49.02) scale(0.88,1)">0.30</text>
<text transform="translate(419.16,49.02) scale(0.88,1)">0.28</text>
<text transform="translate(429.48,49.02) scale(0.88,1)">0.26</text>
<text transform="translate(439.80,49.02) scale(0.88,1)">0.28</text>
<text transform="translate(450.12,49.02) scale(0.88,1)">0.32</text>
<text transform="translate(460.44,49.02) scale(0.88,1)">0.27</text>
<text transform="translate(470.76,49.02) scale(0.88,1)">0.28</text>
<text transform="translate(481.08,49.02) scale(0.88,1)">0.30</text>
<text transform="translate(491.40,49.02) scale(0.88,1)">0.28</text>
<text transform="translate(315.96,59.30) scale(0.88,1)">0.79</text>
<text transform="translate(326.28,59.30) scale(0.88,1)">0.65</text>
<text transform="translate(336.60,59.30) scale(0.88,1)">0.71</text>
<text transform="translate(346.92,59.30) scale(0.88,1)">0.90</text>
<text transform="translate(357.24,59.30) scale(0.88,1)">1.00</text>
<text transform="translate(367.56,59.30) scale(0.88,1)">0.95</text>
<text transform="translate(377.88,59.30) scale(0.88,1)">0.77</text>
<text transform="translate(388.20,59.30) scale(0.88,1)">0.76</text>
<text transform="translate(398.52,59.30) scale(0.88,1)">0.74</text>
<text transform="translate(408.84,59.30) scale(0.88,1)">0.36</text>
<text transform="translate(419.16,59.30) scale(0.88,1)">0.33</text>
<text transform="translate(429.48,59.30) scale(0.88,1)">0.31</text>
<text transform="translate(439.80,59.30) scale(0.88,1)">0.35</text>
<text transform="translate(450.12,59.30) scale(0.88,1)">0.46</text>
<text transform="translate(460.44,59.30) scale(0.88,1)">0.34</text>
<text transform="translate(470.76,59.30) scale(0.88,1)">0.33</text>
<text transform="translate(481.08,59.30) scale(0.88,1)">0.35</text>
<text transform="translate(491.40,59.30) scale(0.88,1)">0.33</text>
<text transform="translate(315.96,69.58) scale(0.88,1)">0.76</text>
<text transform="translate(326.28,69.58) scale(0.88,1)">0.70</text>
<text transform="translate(336.60,69.58) scale(0.88,1)">0.72</text>
<text transform="translate(346.92,69.58) scale(0.88,1)">0.94</text>
<text transform="translate(357.24,69.58) scale(0.88,1)">0.95</text>
<text transform="translate(367.56,69.58) scale(0.88,1)">1.00</text>
<text transform="translate(377.88,69.58) scale(0.88,1)">0.90</text>
<text transform="translate(388.20,69.58) scale(0.88,1)">0.89</text>
<text transform="translate(398.52,69.58) scale(0.88,1)">0.88</text>
<text transform="translate(408.84,69.58) scale(0.88,1)">0.31</text>
<text transform="translate(419.16,69.58) scale(0.88,1)">0.29</text>
<text transform="translate(429.48,69.58) scale(0.88,1)">0.27</text>
<text transform="translate(439.80,69.58) scale(0.88,1)">0.29</text>
<text transform="translate(450.12,69.58) scale(0.88,1)">0.33</text>
<text transform="translate(460.44,69.58) scale(0.88,1)">0.29</text>
<text transform="translate(470.76,69.58) scale(0.88,1)">0.29</text>
<text transform="translate(481.08,69.58) scale(0.88,1)">0.31</text>
<text transform="translate(491.40,69.58) scale(0.88,1)">0.29</text>
<text transform="translate(315.96,79.86) scale(0.88,1)">0.66</text>
<text transform="translate(326.28,79.86) scale(0.88,1)">0.67</text>
<text transform="translate(336.60,79.86) scale(0.88,1)">0.69</text>
<text transform="translate(346.92,79.86) scale(0.88,1)">0.93</text>
<text transform="translate(357.24,79.86) scale(0.88,1)">0.77</text>
<text transform="translate(367.56,79.86) scale(0.88,1)">0.90</text>
<text transform="translate(377.88,79.86) scale(0.88,1)">1.00</text>
<text transform="translate(388.20,79.86) scale(0.88,1)">0.98</text>
<text transform="translate(398.52,79.86) scale(0.88,1)">0.99</text>
<text transform="translate(408.84,79.86) scale(0.88,1)">0.24</text>
<text transform="translate(419.16,79.86) scale(0.88,1)">0.23</text>
<text transform="translate(429.48,79.86) scale(0.88,1)">0.22</text>
<text transform="translate(439.80,79.86) scale(0.88,1)">0.23</text>
<text transform="translate(450.12,79.86) scale(0.88,1)">0.23</text>
<text transform="translate(460.44,79.86) scale(0.88,1)">0.22</text>
<text transform="translate(470.76,79.86) scale(0.88,1)">0.21</text>
<text transform="translate(481.08,79.86) scale(0.88,1)">0.23</text>
<text transform="translate(491.40,79.86) scale(0.88,1)">0.21</text>
<text transform="translate(315.96,90.14) scale(0.88,1)">0.64</text>
<text transform="translate(326.28,90.14) scale(0.88,1)">0.66</text>
<text transform="translate(336.60,90.14) scale(0.88,1)">0.67</text>
<text transform="translate(346.92,90.14) scale(0.88,1)">0.92</text>
<text transform="translate(357.24,90.14) scale(0.88,1)">0.76</text>
<text transform="translate(367.56,90.14) scale(0.88,1)">0.89</text>
<text transform="translate(377.88,90.14) scale(0.88,1)">0.98</text>
<text transform="translate(388.20,90.14) scale(0.88,1)">1.00</text>
<text transform="translate(398.52,90.14) scale(0.88,1)">1.00</text>
<text transform="translate(408.84,90.14) scale(0.88,1)">0.21</text>
<text transform="translate(419.16,90.14) scale(0.88,1)">0.21</text>
<text transform="translate(429.48,90.14) scale(0.88,1)">0.21</text>
<text transform="translate(439.80,90.14) scale(0.88,1)">0.22</text>
<text transform="translate(450.12,90.14) scale(0.88,1)">0.22</text>
<text transform="translate(460.44,90.14) scale(0.88,1)">0.21</text>
<text transform="translate(470.76,90.14) scale(0.88,1)">0.21</text>
<text transform="translate(481.08,90.14) scale(0.88,1)">0.24</text>
<text transform="translate(491.40,90.14) scale(0.88,1)">0.21</text>
<text transform="translate(315.96,100.42) scale(0.88,1)">0.63</text>
<text transform="translate(326.28,100.42) scale(0.88,1)">0.66</text>
<text transform="translate(336.60,100.42) scale(0.88,1)">0.67</text>
<text transform="translate(346.92,100.42) scale(0.88,1)">0.90</text>
<text transform="translate(357.24,100.42) scale(0.88,1)">0.74</text>
<text transform="translate(367.56,100.42) scale(0.88,1)">0.88</text>
<text transform="translate(377.88,100.42) scale(0.88,1)">0.99</text>
<text transform="translate(388.20,100.42) scale(0.88,1)">1.00</text>
<text transform="translate(398.52,100.42) scale(0.88,1)">1.00</text>
<text transform="translate(408.84,100.42) scale(0.88,1)">0.21</text>
<text transform="translate(419.16,100.42) scale(0.88,1)">0.22</text>
<text transform="translate(429.48,100.42) scale(0.88,1)">0.21</text>
<text transform="translate(439.80,100.42) scale(0.88,1)">0.21</text>
<text transform="translate(450.12,100.42) scale(0.88,1)">0.21</text>
<text transform="translate(460.44,100.42) scale(0.88,1)">0.21</text>
<text transform="translate(470.76,100.42) scale(0.88,1)">0.21</text>
<text transform="translate(481.08,100.42) scale(0.88,1)">0.21</text>
<text transform="translate(491.40,100.42) scale(0.88,1)">0.22</text>
<text transform="translate(315.96,110.70) scale(0.88,1)">0.50</text>
<text transform="translate(326.28,110.70) scale(0.88,1)">0.46</text>
<text transform="translate(336.60,110.70) scale(0.88,1)">0.51</text>
<text transform="translate(346.92,110.70) scale(0.88,1)">0.30</text>
<text transform="translate(357.24,110.70) scale(0.88,1)">0.36</text>
<text transform="translate(367.56,110.70) scale(0.88,1)">0.31</text>
<text transform="translate(377.88,110.70) scale(0.88,1)">0.24</text>
<text transform="translate(388.20,110.70) scale(0.88,1)">0.21</text>
<text transform="translate(398.52,110.70) scale(0.88,1)">0.21</text>
<text transform="translate(408.84,110.70) scale(0.88,1)">1.00</text>
<text transform="translate(419.16,110.70) scale(0.88,1)">0.97</text>
<text transform="translate(429.48,110.70) scale(0.88,1)">0.96</text>
<text transform="translate(439.80,110.70) scale(0.88,1)">0.93</text>
<text transform="translate(450.12,110.70) scale(0.88,1)">0.90</text>
<text transform="translate(460.44,110.70) scale(0.88,1)">0.93</text>
<text transform="translate(470.76,110.70) scale(0.88,1)">0.96</text>
<text transform="translate(481.08,110.70) scale(0.88,1)">0.96</text>
<text transform="translate(491.40,110.70) scale(0.88,1)">0.97</text>
<text transform="translate(315.96,120.98) scale(0.88,1)">0.48</text>
<text transform="translate(326.28,120.98) scale(0.88,1)">0.47</text>
<text transform="translate(336.60,120.98) scale(0.88,1)">0.51</text>
<text transform="translate(346.92,120.98) scale(0.88,1)">0.28</text>
<text transform="translate(357.24,120.98) scale(0.88,1)">0.33</text>
<text transform="translate(367.56,120.98) scale(0.88,1)">0.29</text>
<text transform="translate(377.88,120.98) scale(0.88,1)">0.23</text>
<text transform="translate(388.20,120.98) scale(0.88,1)">0.21</text>
<text transform="translate(398.52,120.98) scale(0.88,1)">0.22</text>
<text transform="translate(408.84,120.98) scale(0.88,1)">0.97</text>
<text transform="translate(419.16,120.98) scale(0.88,1)">1.00</text>
<text transform="translate(429.48,120.98) scale(0.88,1)">0.99</text>
<text transform="translate(439.80,120.98) scale(0.88,1)">0.87</text>
<text transform="translate(450.12,120.98) scale(0.88,1)">0.83</text>
<text transform="translate(460.44,120.98) scale(0.88,1)">0.87</text>
<text transform="translate(470.76,120.98) scale(0.88,1)">0.91</text>
<text transform="translate(481.08,120.98) scale(0.88,1)">0.93</text>
<text transform="translate(491.40,120.98) scale(0.88,1)">0.93</text>
<text transform="translate(315.96,131.26) scale(0.88,1)">0.46</text>
<text transform="translate(326.28,131.26) scale(0.88,1)">0.46</text>
<text transform="translate(336.60,131.26) scale(0.88,1)">0.49</text>
<text transform="translate(346.92,131.26) scale(0.88,1)">0.26</text>
<text transform="translate(357.24,131.26) scale(0.88,1)">0.31</text>
<text transform="translate(367.56,131.26) scale(0.88,1)">0.27</text>
<text transform="translate(377.88,131.26) scale(0.88,1)">0.22</text>
<text transform="translate(388.20,131.26) scale(0.88,1)">0.21</text>
<text transform="translate(398.52,131.26) scale(0.88,1)">0.21</text>
<text transform="translate(408.84,131.26) scale(0.88,1)">0.96</text>
<text transform="translate(419.16,131.26) scale(0.88,1)">0.99</text>
<text transform="translate(429.48,131.26) scale(0.88,1)">1.00</text>
<text transform="translate(439.80,131.26) scale(0.88,1)">0.85</text>
<text transform="translate(450.12,131.26) scale(0.88,1)">0.80</text>
<text transform="translate(460.44,131.26) scale(0.88,1)">0.84</text>
<text transform="translate(470.76,131.26) scale(0.88,1)">0.90</text>
<text transform="translate(481.08,131.26) scale(0.88,1)">0.92</text>
<text transform="translate(491.40,131.26) scale(0.88,1)">0.92</text>
<text transform="translate(315.96,141.54) scale(0.88,1)">0.48</text>
<text transform="translate(326.28,141.54) scale(0.88,1)">0.45</text>
<text transform="translate(336.60,141.54) scale(0.88,1)">0.49</text>
<text transform="translate(346.92,141.54) scale(0.88,1)">0.28</text>
<text transform="translate(357.24,141.54) scale(0.88,1)">0.35</text>
<text transform="translate(367.56,141.54) scale(0.88,1)">0.29</text>
<text transform="translate(377.88,141.54) scale(0.88,1)">0.23</text>
<text transform="translate(388.20,141.54) scale(0.88,1)">0.22</text>
<text transform="translate(398.52,141.54) scale(0.88,1)">0.21</text>
<text transform="translate(408.84,141.54) scale(0.88,1)">0.93</text>
<text transform="translate(419.16,141.54) scale(0.88,1)">0.87</text>
<text transform="translate(429.48,141.54) scale(0.88,1)">0.85</text>
<text transform="translate(439.80,141.54) scale(0.88,1)">1.00</text>
<text transform="translate(450.12,141.54) scale(0.88,1)">0.96</text>
<text transform="translate(460.44,141.54) scale(0.88,1)">0.99</text>
<text transform="translate(470.76,141.54) scale(0.88,1)">0.91</text>
<text transform="translate(481.08,141.54) scale(0.88,1)">0.92</text>
<text transform="translate(491.40,141.54) scale(0.88,1)">0.93</text>
<text transform="translate(315.96,151.82) scale(0.88,1)">0.53</text>
<text transform="translate(326.28,151.82) scale(0.88,1)">0.45</text>
<text transform="translate(336.60,151.82) scale(0.88,1)">0.52</text>
<text transform="translate(346.92,151.82) scale(0.88,1)">0.32</text>
<text transform="translate(357.24,151.82) scale(0.88,1)">0.46</text>
<text transform="translate(367.56,151.82) scale(0.88,1)">0.33</text>
<text transform="translate(377.88,151.82) scale(0.88,1)">0.23</text>
<text transform="translate(388.20,151.82) scale(0.88,1)">0.22</text>
<text transform="translate(398.52,151.82) scale(0.88,1)">0.21</text>
<text transform="translate(408.84,151.82) scale(0.88,1)">0.90</text>
<text transform="translate(419.16,151.82) scale(0.88,1)">0.83</text>
<text transform="translate(429.48,151.82) scale(0.88,1)">0.80</text>
<text transform="translate(439.80,151.82) scale(0.88,1)">0.96</text>
<text transform="translate(450.12,151.82) scale(0.88,1)">1.00</text>
<text transform="translate(460.44,151.82) scale(0.88,1)">0.95</text>
<text transform="translate(470.76,151.82) scale(0.88,1)">0.88</text>
<text transform="translate(481.08,151.82) scale(0.88,1)">0.89</text>
<text transform="translate(491.40,151.82) scale(0.88,1)">0.89</text>
<text transform="translate(315.96,162.10) scale(0.88,1)">0.47</text>
<text transform="translate(326.28,162.10) scale(0.88,1)">0.46</text>
<text transform="translate(336.60,162.10) scale(0.88,1)">0.49</text>
<text transform="translate(346.92,162.10) scale(0.88,1)">0.27</text>
<text transform="translate(357.24,162.10) scale(0.88,1)">0.34</text>
<text transform="translate(367.56,162.10) scale(0.88,1)">0.29</text>
<text transform="translate(377.88,162.10) scale(0.88,1)">0.22</text>
<text transform="translate(388.20,162.10) scale(0.88,1)">0.21</text>
<text transform="translate(398.52,162.10) scale(0.88,1)">0.21</text>
<text transform="translate(408.84,162.10) scale(0.88,1)">0.93</text>
<text transform="translate(419.16,162.10) scale(0.88,1)">0.87</text>
<text transform="translate(429.48,162.10) scale(0.88,1)">0.84</text>
<text transform="translate(439.80,162.10) scale(0.88,1)">0.99</text>
<text transform="translate(450.12,162.10) scale(0.88,1)">0.95</text>
<text transform="translate(460.44,162.10) scale(0.88,1)">1.00</text>
<text transform="translate(470.76,162.10) scale(0.88,1)">0.94</text>
<text transform="translate(481.08,162.10) scale(0.88,1)">0.93</text>
<text transform="translate(491.40,162.10) scale(0.88,1)">0.94</text>
<text transform="translate(315.96,172.38) scale(0.88,1)">0.47</text>
<text transform="translate(326.28,172.38) scale(0.88,1)">0.47</text>
<text transform="translate(336.60,172.38) scale(0.88,1)">0.51</text>
<text transform="translate(346.92,172.38) scale(0.88,1)">0.28</text>
<text transform="translate(357.24,172.38) scale(0.88,1)">0.33</text>
<text transform="translate(367.56,172.38) scale(0.88,1)">0.29</text>
<text transform="translate(377.88,172.38) scale(0.88,1)">0.21</text>
<text transform="translate(388.20,172.38) scale(0.88,1)">0.21</text>
<text transform="translate(398.52,172.38) scale(0.88,1)">0.21</text>
<text transform="translate(408.84,172.38) scale(0.88,1)">0.96</text>
<text transform="translate(419.16,172.38) scale(0.88,1)">0.91</text>
<text transform="translate(429.48,172.38) scale(0.88,1)">0.90</text>
<text transform="translate(439.80,172.38) scale(0.88,1)">0.91</text>
<text transform="translate(450.12,172.38) scale(0.88,1)">0.88</text>
<text transform="translate(460.44,172.38) scale(0.88,1)">0.94</text>
<text transform="translate(470.76,172.38) scale(0.88,1)">1.00</text>
<text transform="translate(481.08,172.38) scale(0.88,1)">0.99</text>
<text transform="translate(491.40,172.38) scale(0.88,1)">0.99</text>
<text transform="translate(315.96,182.66) scale(0.88,1)">0.49</text>
<text transform="translate(326.28,182.66) scale(0.88,1)">0.49</text>
<text transform="translate(336.60,182.66) scale(0.88,1)">0.52</text>
<text transform="translate(346.92,182.66) scale(0.88,1)">0.30</text>
<text transform="translate(357.24,182.66) scale(0.88,1)">0.35</text>
<text transform="translate(367.56,182.66) scale(0.88,1)">0.31</text>
<text transform="translate(377.88,182.66) scale(0.88,1)">0.23</text>
<text transform="translate(388.20,182.66) scale(0.88,1)">0.24</text>
<text transform="translate(398.52,182.66) scale(0.88,1)">0.21</text>
<text transform="translate(408.84,182.66) scale(0.88,1)">0.96</text>
<text transform="translate(419.16,182.66) scale(0.88,1)">0.93</text>
<text transform="translate(429.48,182.66) scale(0.88,1)">0.92</text>
<text transform="translate(439.80,182.66) scale(0.88,1)">0.92</text>
<text transform="translate(450.12,182.66) scale(0.88,1)">0.89</text>
<text transform="translate(460.44,182.66) scale(0.88,1)">0.93</text>
<text transform="translate(470.76,182.66) scale(0.88,1)">0.99</text>
<text transform="translate(481.08,182.66) scale(0.88,1)">1.00</text>
<text transform="translate(491.40,182.66) scale(0.88,1)">0.99</text>
<text transform="translate(315.96,192.94) scale(0.88,1)">0.48</text>
<text transform="translate(326.28,192.94) scale(0.88,1)">0.47</text>
<text transform="translate(336.60,192.94) scale(0.88,1)">0.50</text>
<text transform="translate(346.92,192.94) scale(0.88,1)">0.28</text>
<text transform="translate(357.24,192.94) scale(0.88,1)">0.33</text>
<text transform="translate(367.56,192.94) scale(0.88,1)">0.29</text>
<text transform="translate(377.88,192.94) scale(0.88,1)">0.21</text>
<text transform="translate(388.20,192.94) scale(0.88,1)">0.21</text>
<text transform="translate(398.52,192.94) scale(0.88,1)">0.22</text>
<text transform="translate(408.84,192.94) scale(0.88,1)">0.97</text>
<text transform="translate(419.16,192.94) scale(0.88,1)">0.93</text>
<text transform="translate(429.48,192.94) scale(0.88,1)">0.92</text>
<text transform="translate(439.80,192.94) scale(0.88,1)">0.93</text>
<text transform="translate(450.12,192.94) scale(0.88,1)">0.89</text>
<text transform="translate(460.44,192.94) scale(0.88,1)">0.94</text>
<text transform="translate(470.76,192.94) scale(0.88,1)">0.99</text>
<text transform="translate(481.08,192.94) scale(0.88,1)">0.99</text>
<text transform="translate(491.40,192.94) scale(0.88,1)">1.00</text>
</g>
<g class="rl" style="font-size:6.0px">
<text transform="translate(497.96,18.02) scale(0.92,1)">XZX45LT1d-1</text>
<text transform="translate(497.96,28.30) scale(0.92,1)">XZX45LT1d-2</text>
<text transform="translate(497.96,38.58) scale(0.92,1)">XZX45LT1d-3</text>
<text transform="translate(497.96,48.86) scale(0.92,1)">XZX45LT3d-1</text>
<text transform="translate(497.96,59.14) scale(0.92,1)">XZX45LT3d-2</text>
<text transform="translate(497.96,69.42) scale(0.92,1)">XZX45LT3d-3</text>
<text transform="translate(497.96,79.70) scale(0.92,1)">XZX45LT5d-1</text>
<text transform="translate(497.96,89.98) scale(0.92,1)">XZX45LT5d-2</text>
<text transform="translate(497.96,100.26) scale(0.92,1)">XZX45LT5d-3</text>
<text transform="translate(497.96,110.54) scale(0.92,1)">XZX45OT1d-1</text>
<text transform="translate(497.96,120.82) scale(0.92,1)">XZX45OT1d-2</text>
<text transform="translate(497.96,131.10) scale(0.92,1)">XZX45OT1d-3</text>
<text transform="translate(497.96,141.38) scale(0.92,1)">XZX45OT3d-1</text>
<text transform="translate(497.96,151.66) scale(0.92,1)">XZX45OT3d-2</text>
<text transform="translate(497.96,161.94) scale(0.92,1)">XZX45OT3d-3</text>
<text transform="translate(497.96,172.22) scale(0.92,1)">XZX45OT5d-1</text>
<text transform="translate(497.96,182.50) scale(0.92,1)">XZX45OT5d-2</text>
<text transform="translate(497.96,192.78) scale(0.92,1)">XZX45OT5d-3</text>
</g>
<g class="cl" style="font-size:6.0px">
<text transform="translate(318.56,200.54) rotate(-45) scale(0.92,1)">XZX45LT1d-1</text>
<text transform="translate(328.88,200.54) rotate(-45) scale(0.92,1)">XZX45LT1d-2</text>
<text transform="translate(339.20,200.54) rotate(-45) scale(0.92,1)">XZX45LT1d-3</text>
<text transform="translate(349.52,200.54) rotate(-45) scale(0.92,1)">XZX45LT3d-1</text>
<text transform="translate(359.84,200.54) rotate(-45) scale(0.92,1)">XZX45LT3d-2</text>
<text transform="translate(370.16,200.54) rotate(-45) scale(0.92,1)">XZX45LT3d-3</text>
<text transform="translate(380.48,200.54) rotate(-45) scale(0.92,1)">XZX45LT5d-1</text>
<text transform="translate(390.80,200.54) rotate(-45) scale(0.92,1)">XZX45LT5d-2</text>
<text transform="translate(401.12,200.54) rotate(-45) scale(0.92,1)">XZX45LT5d-3</text>
<text transform="translate(411.44,200.54) rotate(-45) scale(0.92,1)">XZX45OT1d-1</text>
<text transform="translate(421.76,200.54) rotate(-45) scale(0.92,1)">XZX45OT1d-2</text>
<text transform="translate(432.08,200.54) rotate(-45) scale(0.92,1)">XZX45OT1d-3</text>
<text transform="translate(442.40,200.54) rotate(-45) scale(0.92,1)">XZX45OT3d-1</text>
<text transform="translate(452.72,200.54) rotate(-45) scale(0.92,1)">XZX45OT3d-2</text>
<text transform="translate(463.04,200.54) rotate(-45) scale(0.92,1)">XZX45OT3d-3</text>
<text transform="translate(473.36,200.54) rotate(-45) scale(0.92,1)">XZX45OT5d-1</text>
<text transform="translate(483.68,200.54) rotate(-45) scale(0.92,1)">XZX45OT5d-2</text>
<text transform="translate(494.00,200.54) rotate(-45) scale(0.92,1)">XZX45OT5d-3</text>
</g>
</g>
<rect x="270.2" y="72.70" width="4.40" height="1.41" fill="#d12f26"/>
<rect x="270.2" y="73.81" width="4.40" height="1.41" fill="#da3526"/>
<rect x="270.2" y="74.91" width="4.40" height="1.41" fill="#df402c"/>
<rect x="270.2" y="76.02" width="4.40" height="1.41" fill="#e1462f"/>
<rect x="270.2" y="77.13" width="4.40" height="1.41" fill="#e65134"/>
<rect x="270.2" y="78.23" width="4.40" height="1.41" fill="#ea5c3a"/>
<rect x="270.2" y="79.34" width="4.40" height="1.41" fill="#ed623d"/>
<rect x="270.2" y="80.45" width="4.40" height="1.41" fill="#f16d42"/>
<rect x="270.2" y="81.55" width="4.40" height="1.41" fill="#f67848"/>
<rect x="270.2" y="82.66" width="4.40" height="1.41" fill="#f87e4b"/>
<rect x="270.2" y="83.77" width="4.40" height="1.41" fill="#fc8951"/>
<rect x="270.2" y="84.87" width="4.40" height="1.41" fill="#fc9357"/>
<rect x="270.2" y="85.98" width="4.40" height="1.41" fill="#fc985a"/>
<rect x="270.2" y="87.09" width="4.40" height="1.41" fill="#fca261"/>
<rect x="270.2" y="88.19" width="4.40" height="1.41" fill="#fdad67"/>
<rect x="270.2" y="89.30" width="4.40" height="1.41" fill="#fdb26a"/>
<rect x="270.2" y="90.41" width="4.40" height="1.41" fill="#fdbd71"/>
<rect x="270.2" y="91.51" width="4.40" height="1.41" fill="#fdc777"/>
<rect x="270.2" y="92.62" width="4.40" height="1.41" fill="#fecd7b"/>
<rect x="270.2" y="93.73" width="4.40" height="1.41" fill="#fed781"/>
<rect x="270.2" y="94.83" width="4.40" height="1.41" fill="#fedf87"/>
<rect x="270.2" y="95.94" width="4.40" height="1.41" fill="#fee18a"/>
<rect x="270.2" y="97.05" width="4.40" height="1.41" fill="#fee58f"/>
<rect x="270.2" y="98.15" width="4.40" height="1.41" fill="#fee995"/>
<rect x="270.2" y="99.26" width="4.40" height="1.41" fill="#feeb97"/>
<rect x="270.2" y="100.37" width="4.40" height="1.41" fill="#feef9d"/>
<rect x="270.2" y="101.47" width="4.40" height="1.41" fill="#fff3a2"/>
<rect x="270.2" y="102.58" width="4.40" height="1.41" fill="#fff5a5"/>
<rect x="270.2" y="103.69" width="4.40" height="1.41" fill="#fff9ab"/>
<rect x="270.2" y="104.79" width="4.40" height="1.41" fill="#fffeb0"/>
<rect x="270.2" y="105.90" width="4.40" height="1.41" fill="#feffb3"/>
<rect x="270.2" y="107.01" width="4.40" height="1.41" fill="#f9fdba"/>
<rect x="270.2" y="108.11" width="4.40" height="1.41" fill="#f4fbc2"/>
<rect x="270.2" y="109.22" width="4.40" height="1.41" fill="#f2fac5"/>
<rect x="270.2" y="110.33" width="4.40" height="1.41" fill="#ecf8cd"/>
<rect x="270.2" y="111.43" width="4.40" height="1.41" fill="#e7f6d4"/>
<rect x="270.2" y="112.54" width="4.40" height="1.41" fill="#e3f4d8"/>
<rect x="270.2" y="113.65" width="4.40" height="1.41" fill="#ddf2e1"/>
<rect x="270.2" y="114.75" width="4.40" height="1.41" fill="#daf1ec"/>
<rect x="270.2" y="115.86" width="4.40" height="1.41" fill="#d7f0f1"/>
<rect x="270.2" y="116.97" width="4.40" height="1.41" fill="#d0ebf3"/>
<rect x="270.2" y="118.07" width="4.40" height="1.41" fill="#c7e4f0"/>
<rect x="270.2" y="119.18" width="4.40" height="1.41" fill="#c2e1ee"/>
<rect x="270.2" y="120.29" width="4.40" height="1.41" fill="#b9dbeb"/>
<rect x="270.2" y="121.39" width="4.40" height="1.41" fill="#b0d5e7"/>
<rect x="270.2" y="122.50" width="4.40" height="1.41" fill="#abd1e5"/>
<rect x="270.2" y="123.61" width="4.40" height="1.41" fill="#a2cbe2"/>
<rect x="270.2" y="124.71" width="4.40" height="1.41" fill="#99c5de"/>
<rect x="270.2" y="125.82" width="4.40" height="1.41" fill="#94c2dd"/>
<rect x="270.2" y="126.93" width="4.40" height="1.41" fill="#8bbcd9"/>
<rect x="270.2" y="128.03" width="4.40" height="1.41" fill="#82b3d5"/>
<rect x="270.2" y="129.14" width="4.40" height="1.41" fill="#7eafd2"/>
<rect x="270.2" y="130.25" width="4.40" height="1.41" fill="#75a6ce"/>
<rect x="270.2" y="131.35" width="4.40" height="1.41" fill="#6c9dc9"/>
<rect x="270.2" y="132.46" width="4.40" height="1.41" fill="#6899c7"/>
<rect x="270.2" y="133.57" width="4.40" height="1.41" fill="#5f90c2"/>
<rect x="270.2" y="134.67" width="4.40" height="1.41" fill="#5687bd"/>
<rect x="270.2" y="135.78" width="4.40" height="1.41" fill="#5183bb"/>
<rect x="270.2" y="136.89" width="4.40" height="1.41" fill="#497ab6"/>
<rect x="270.2" y="137.99" width="4.40" height="1.41" fill="#4371af"/>
<text class="cb" x="276.3" y="77.02">1</text>
<text class="cb" x="276.3" y="88.12">0.9</text>
<text class="cb" x="276.3" y="100.12">0.8</text>
<text class="cb" x="276.3" y="112.22">0.7</text>
<text class="cb" x="276.3" y="124.72">0.6</text>
<text class="cb" x="276.3" y="136.62">0.5</text>
<line x1="41" x2="259" y1="354.15" y2="354.15" class="gmin"/>
<line x1="41" x2="259" y1="322.25" y2="322.25" class="gmin"/>
<line x1="41" x2="259" y1="290.35" y2="290.35" class="gmin"/>
<line x1="41" x2="259" y1="258.45" y2="258.45" class="gmin"/>
<line x1="41" x2="259" y1="226.55" y2="226.55" class="gmin"/>
<line y1="226" y2="376" x1="65.90" x2="65.90" class="gmin"/>
<line y1="226" y2="376" x1="133.10" x2="133.10" class="gmin"/>
<line y1="226" y2="376" x1="200.30" x2="200.30" class="gmin"/>
<line x1="41" x2="259" y1="370.10" y2="370.10" class="gmaj"/>
<line x1="41" x2="259" y1="338.20" y2="338.20" class="gmaj"/>
<line x1="41" x2="259" y1="306.30" y2="306.30" class="gmaj"/>
<line x1="41" x2="259" y1="274.40" y2="274.40" class="gmaj"/>
<line x1="41" x2="259" y1="242.50" y2="242.50" class="gmaj"/>
<line y1="226" y2="376" x1="99.50" x2="99.50" class="gmaj"/>
<line y1="226" y2="376" x1="166.70" x2="166.70" class="gmaj"/>
<line y1="226" y2="376" x1="233.90" x2="233.90" class="gmaj"/>
<line x1="41" x2="259" y1="306.30" y2="306.30" class="zl"/>
<line y1="226" y2="376" x1="166.70" x2="166.70" class="zl"/>
<line x1="39" x2="41" y1="370.10" y2="370.10" class="tk"/>
<text class="tl" x="38.5" y="371.87" text-anchor="end">-100</text>
<line x1="39" x2="41" y1="338.20" y2="338.20" class="tk"/>
<text class="tl" x="38.5" y="339.97" text-anchor="end">-50</text>
<line x1="39" x2="41" y1="306.30" y2="306.30" class="tk"/>
<text class="tl" x="38.5" y="308.07" text-anchor="end">0</text>
<line x1="39" x2="41" y1="274.40" y2="274.40" class="tk"/>
<text class="tl" x="38.5" y="276.17" text-anchor="end">50</text>
<line x1="39" x2="41" y1="242.50" y2="242.50" class="tk"/>
<text class="tl" x="38.5" y="244.27" text-anchor="end">100</text>
<line y1="376" y2="378" x1="99.50" x2="99.50" class="tk"/>
<text class="tl" x="99.50" y="383.07" text-anchor="middle">-100</text>
<line y1="376" y2="378" x1="166.70" x2="166.70" class="tk"/>
<text class="tl" x="166.70" y="383.07" text-anchor="middle">0</text>
<line y1="376" y2="378" x1="233.90" x2="233.90" class="tk"/>
<text class="tl" x="233.90" y="383.07" text-anchor="middle">100</text>
<text class="at" x="150.9" y="389.48" text-anchor="middle">PC1(35.5%)</text>
<text class="at" transform="translate(28.98,302.4) rotate(-90)" text-anchor="middle">PC2(12.7%)</text>
<ellipse cx="109" cy="240.2" rx="7.3" ry="2.4" transform="rotate(2 109 240.2)" fill="#a9a21c" fill-opacity="0.08" stroke="#a9a21c" stroke-width="0.6"/>
<circle cx="105" cy="239.4" r="1.35" fill="#a9a21c"/>
<circle cx="107.3" cy="243" r="1.35" fill="#a9a21c"/>
<circle cx="114.5" cy="240.4" r="1.35" fill="#a9a21c"/>
<text class="pl" transform="translate(100.5,236.75) scale(0.88,1)" fill="#a9a21c" stroke="#a9a21c">SQSLLT5d-1</text>
<text class="pl" transform="translate(77.4,242.05) scale(0.88,1)" fill="#a9a21c" stroke="#a9a21c">SQSLLT5d-2</text>
<text class="pl" transform="translate(77.4,247.55) scale(0.88,1)" fill="#a9a21c" stroke="#a9a21c">SQSLLT5d-3</text>
<line x1="115.3" y1="256" x2="129.8" y2="233" stroke="#e0872a" stroke-width="0.9"/>
<circle cx="116" cy="254.7" r="1.35" fill="#e0872a"/>
<circle cx="124.3" cy="240.7" r="1.35" fill="#e0872a"/>
<circle cx="126.2" cy="238.4" r="1.35" fill="#e0872a"/>
<text class="pl" transform="translate(128.7,241.25) scale(0.88,1)" fill="#e0872a" stroke="#e0872a">SQSLLT3d-1</text>
<text class="pl" transform="translate(106.3,246.05) scale(0.88,1)" fill="#e0872a" stroke="#e0872a">SQSLLT3d-2</text>
<text class="pl" transform="translate(99,253.25) scale(0.88,1)" fill="#e0872a" stroke="#e0872a">SQSLLT3d-3</text>
<ellipse cx="123.6" cy="257" rx="17" ry="2.9" transform="rotate(-50.4 123.6 257)" fill="#f0568e" fill-opacity="0.1" stroke="#f0568e" stroke-width="0.6"/>
<circle cx="117.9" cy="260.8" r="1.35" fill="#f0568e"/>
<circle cx="121.5" cy="264.5" r="1.35" fill="#f0568e"/>
<circle cx="132.5" cy="246.1" r="1.35" fill="#f0568e"/>
<text class="pl" transform="translate(127.8,252.05) scale(0.88,1)" fill="#f0568e" stroke="#f0568e">SQSLLT1d-1</text>
<text class="pl" transform="translate(113.4,269.85) scale(0.88,1)" fill="#f0568e" stroke="#f0568e">SQSLLT1d-2</text>
<text class="pl" transform="translate(91,259.65) scale(0.88,1)" fill="#f0568e" stroke="#f0568e">SQSLLT1d-3</text>
<ellipse cx="235" cy="282" rx="5.8" ry="16.3" transform="rotate(9 235 282)" fill="#6cbf3c" fill-opacity="0.1" stroke="#6cbf3c" stroke-width="0.6"/>
<ellipse cx="238.5" cy="289" rx="3.4" ry="9" transform="rotate(-25 238.5 289)" fill="#6cbf3c" fill-opacity="0.1" stroke="#6cbf3c" stroke-width="0.6"/>
<ellipse cx="244.5" cy="295" rx="5.2" ry="2.4" transform="rotate(-20 244.5 295)" fill="#6cbf3c" fill-opacity="0.1" stroke="#6cbf3c" stroke-width="0.6"/>
<circle cx="232.4" cy="275.9" r="1.35" fill="#6cbf3c"/>
<circle cx="241.3" cy="275.9" r="1.35" fill="#6cbf3c"/>
<circle cx="234.2" cy="281.6" r="1.35" fill="#6cbf3c"/>
<circle cx="235.3" cy="288.1" r="1.35" fill="#6cbf3c"/>
<circle cx="233.7" cy="293.5" r="1.35" fill="#6cbf3c"/>
<circle cx="239.7" cy="294.4" r="1.35" fill="#6cbf3c"/>
<circle cx="247.3" cy="293.7" r="1.35" fill="#6cbf3c"/>
<circle cx="242.9" cy="299.5" r="1.35" fill="#6cbf3c"/>
<circle cx="246.2" cy="294.6" r="1.35" fill="#6cbf3c"/>
<text class="pl" transform="translate(212.3,274.55) scale(0.88,1)" fill="#6cbf3c" stroke="#6cbf3c">SQSLOT3d-3</text>
<text class="pl" transform="translate(231.8,281.05) scale(0.88,1)" fill="#6cbf3c" stroke="#6cbf3c">SQSLOT5d-3</text>
<text class="pl" transform="translate(203.9,284.35) scale(0.88,1)" fill="#6cbf3c" stroke="#6cbf3c">SQSLOT3d-2</text>
<text class="pl" transform="translate(203.9,290.15) scale(0.88,1)" fill="#6cbf3c" stroke="#6cbf3c">SQSLOT3d-1</text>
<text class="pl" transform="translate(231.8,290.15) scale(0.88,1)" fill="#6cbf3c" stroke="#6cbf3c">SQSLOT1d-3</text>
<text class="pl" transform="translate(203.9,295.05) scale(0.88,1)" fill="#6cbf3c" stroke="#6cbf3c">SQSLOT5d-1</text>
<text class="pl" transform="translate(231.8,298.95) scale(0.88,1)" fill="#6cbf3c" stroke="#6cbf3c">SQSLOT1d-1</text>
<text class="pl" transform="translate(203.9,301.35) scale(0.88,1)" fill="#6cbf3c" stroke="#6cbf3c">SQSLOT1d-2</text>
<text class="pl" transform="translate(232.6,304.15) scale(0.88,1)" fill="#6cbf3c" stroke="#6cbf3c">SQSLOT5d-2</text>
<ellipse cx="94" cy="325.7" rx="9.3" ry="2.6" transform="rotate(41.5 94 325.7)" fill="#3db384" fill-opacity="0.1" stroke="#3db384" stroke-width="0.6"/>
<circle cx="88.8" cy="322.6" r="1.35" fill="#3db384"/>
<circle cx="92.6" cy="329.8" r="1.35" fill="#3db384"/>
<circle cx="98.5" cy="330.2" r="1.35" fill="#3db384"/>
<text class="pl" transform="translate(81.1,320.95) scale(0.88,1)" fill="#3db384" stroke="#3db384">XZX45LT5d-1</text>
<text class="pl" transform="translate(89.3,328.95) scale(0.88,1)" fill="#3db384" stroke="#3db384">XZX45LT5d-3</text>
<text class="pl" transform="translate(74,335.35) scale(0.88,1)" fill="#3db384" stroke="#3db384">XZX45LT5d-2</text>
<ellipse cx="71.5" cy="343.2" rx="11.6" ry="1.8" transform="rotate(-35 71.5 343.2)" fill="#3eb6e6" fill-opacity="0.12" stroke="#3eb6e6" stroke-width="0.6"/>
<circle cx="78.1" cy="338.6" r="1.35" fill="#3eb6e6"/>
<circle cx="64" cy="347.7" r="1.35" fill="#3eb6e6"/>
<circle cx="65.5" cy="348.7" r="1.35" fill="#3eb6e6"/>
<text class="pl" transform="translate(63.2,340.75) scale(0.88,1)" fill="#3eb6e6" stroke="#3eb6e6">XZX45LT3d-2</text>
<text class="pl" transform="translate(43.2,346.65) scale(0.88,1)" fill="#3eb6e6" stroke="#3eb6e6">XZX45LT3d-1</text>
<text class="pl" transform="translate(55.6,354.15) scale(0.88,1)" fill="#3eb6e6" stroke="#3eb6e6">XZX45LT3d-3</text>
<ellipse cx="51.2" cy="367.1" rx="2.8" ry="0.7" transform="rotate(-75 51.2 367.1)" fill="#3c80d8" fill-opacity="0.3" stroke="#3c80d8" stroke-width="0.6"/>
<circle cx="51.6" cy="365.2" r="1.35" fill="#3c80d8"/>
<circle cx="50.7" cy="369" r="1.35" fill="#3c80d8"/>
<circle cx="51.2" cy="367.2" r="1.35" fill="#3c80d8"/>
<text class="pl" transform="translate(43.2,363.55) scale(0.88,1)" fill="#3c80d8" stroke="#3c80d8">XZX45LT1d-1</text>
<text class="pl" transform="translate(55.1,368.85) scale(0.88,1)" fill="#3c80d8" stroke="#3c80d8">XZX45LT1d-3</text>
<text class="pl" transform="translate(43.2,374.15) scale(0.88,1)" fill="#3c80d8" stroke="#3c80d8">XZX45LT1d-2</text>
<line x1="232.3" y1="338.2" x2="238.9" y2="334.9" stroke="#7266dc" stroke-width="1.0"/>
<ellipse cx="237" cy="343.5" rx="4.5" ry="2.6" transform="rotate(-20 237 343.5)" fill="#a659d2" fill-opacity="0.12" stroke="#a659d2" stroke-width="0.6"/>
<ellipse cx="243" cy="342.5" rx="6" ry="2.6" transform="rotate(0 243 342.5)" fill="#dc4fb4" fill-opacity="0.1" stroke="#dc4fb4" stroke-width="0.6"/>
<circle cx="238.9" cy="334.9" r="1.35" fill="#7266dc"/>
<circle cx="232.3" cy="338.2" r="1.35" fill="#7266dc"/>
<circle cx="239.8" cy="342.1" r="1.35" fill="#7266dc"/>
<circle cx="236.6" cy="341.5" r="1.35" fill="#a659d2"/>
<circle cx="233.3" cy="346.4" r="1.35" fill="#a659d2"/>
<circle cx="234.3" cy="343.5" r="1.35" fill="#a659d2"/>
<circle cx="238.5" cy="341.5" r="1.35" fill="#dc4fb4"/>
<circle cx="247.7" cy="341.2" r="1.35" fill="#dc4fb4"/>
<circle cx="238.5" cy="345.4" r="1.35" fill="#dc4fb4"/>
<text class="pl" transform="translate(198.2,331.25) scale(0.88,1)" fill="#7266dc" stroke="#7266dc">XZX45OT1d-1</text>
<text class="pl" transform="translate(230,331.25) scale(0.88,1)" fill="#7266dc" stroke="#7266dc">XZX45OT1d-3</text>
<text class="pl" transform="translate(198.2,337.05) scale(0.88,1)" fill="#7266dc" stroke="#7266dc">XZX45OT1d-2</text>
<text class="pl" transform="translate(198.2,348.45) scale(0.88,1)" fill="#a659d2" stroke="#a659d2">XZX45OT3d-2</text>
<text class="pl" transform="translate(230,346.95) scale(0.88,1)" fill="#a659d2" stroke="#a659d2">XZX45OT3d-1</text>
<text class="pl" transform="translate(198.2,353.55) scale(0.88,1)" fill="#a659d2" stroke="#a659d2">XZX45OT3d-3</text>
<text class="pl" transform="translate(198.2,342.35) scale(0.88,1)" fill="#dc4fb4" stroke="#dc4fb4">XZX45OT5d-2</text>
<text class="pl" transform="translate(230,340.55) scale(0.88,1)" fill="#dc4fb4" stroke="#dc4fb4">XZX45OT5d-3</text>
<text class="pl" transform="translate(230,353.95) scale(0.88,1)" fill="#dc4fb4" stroke="#dc4fb4">XZX45OT5d-1</text>
<line x1="294.98" y1="314.60" x2="291.32" y2="314.60" stroke="#f98f87" class="dl"/>
<line x1="291.32" y1="314.60" x2="291.32" y2="325.50" stroke="#f98f87" class="dl"/>
<line x1="294.98" y1="314.60" x2="298.64" y2="314.60" stroke="#f98f87" class="dl"/>
<line x1="298.64" y1="314.60" x2="298.64" y2="325.50" stroke="#f98f87" class="dl"/>
<line x1="289.49" y1="312.30" x2="284.00" y2="312.30" stroke="#f98f87" class="dl"/>
<line x1="284.00" y1="312.30" x2="284.00" y2="325.50" stroke="#f98f87" class="dl"/>
<line x1="289.49" y1="312.30" x2="294.98" y2="312.30" stroke="#f98f87" class="dl"/>
<line x1="294.98" y1="312.30" x2="294.98" y2="314.60" stroke="#f98f87" class="dl"/>
<line x1="316.94" y1="314.60" x2="313.28" y2="314.60" stroke="#f98f87" class="dl"/>
<line x1="313.28" y1="314.60" x2="313.28" y2="325.50" stroke="#f98f87" class="dl"/>
<line x1="316.94" y1="314.60" x2="320.60" y2="314.60" stroke="#f98f87" class="dl"/>
<line x1="320.60" y1="314.60" x2="320.60" y2="325.50" stroke="#f98f87" class="dl"/>
<line x1="311.45" y1="311.40" x2="305.96" y2="311.40" stroke="#f98f87" class="dl"/>
<line x1="305.96" y1="311.40" x2="305.96" y2="325.50" stroke="#f98f87" class="dl"/>
<line x1="311.45" y1="311.40" x2="316.94" y2="311.40" stroke="#f98f87" class="dl"/>
<line x1="316.94" y1="311.40" x2="316.94" y2="314.60" stroke="#f98f87" class="dl"/>
<line x1="300.47" y1="299.40" x2="289.49" y2="299.40" stroke="#f98f87" class="dl"/>
<line x1="289.49" y1="299.40" x2="289.49" y2="312.30" stroke="#f98f87" class="dl"/>
<line x1="300.47" y1="299.40" x2="311.45" y2="299.40" stroke="#f98f87" class="dl"/>
<line x1="311.45" y1="299.40" x2="311.45" y2="311.40" stroke="#f98f87" class="dl"/>
<line x1="331.58" y1="312.20" x2="327.92" y2="312.20" stroke="#dba62e" class="dl"/>
<line x1="327.92" y1="312.20" x2="327.92" y2="325.50" stroke="#dba62e" class="dl"/>
<line x1="331.58" y1="312.20" x2="335.24" y2="312.20" stroke="#dba62e" class="dl"/>
<line x1="335.24" y1="312.20" x2="335.24" y2="325.50" stroke="#dba62e" class="dl"/>
<line x1="346.22" y1="311.50" x2="342.56" y2="311.50" stroke="#dba62e" class="dl"/>
<line x1="342.56" y1="311.50" x2="342.56" y2="325.50" stroke="#dba62e" class="dl"/>
<line x1="346.22" y1="311.50" x2="349.88" y2="311.50" stroke="#dba62e" class="dl"/>
<line x1="349.88" y1="311.50" x2="349.88" y2="325.50" stroke="#dba62e" class="dl"/>
<line x1="338.90" y1="295.50" x2="331.58" y2="295.50" stroke="#dba62e" class="dl"/>
<line x1="331.58" y1="295.50" x2="331.58" y2="312.20" stroke="#dba62e" class="dl"/>
<line x1="338.90" y1="295.50" x2="346.22" y2="295.50" stroke="#dba62e" class="dl"/>
<line x1="346.22" y1="295.50" x2="346.22" y2="311.50" stroke="#dba62e" class="dl"/>
<line x1="368.18" y1="314.60" x2="364.52" y2="314.60" stroke="#a6b92e" class="dl"/>
<line x1="364.52" y1="314.60" x2="364.52" y2="325.50" stroke="#a6b92e" class="dl"/>
<line x1="368.18" y1="314.60" x2="371.84" y2="314.60" stroke="#a6b92e" class="dl"/>
<line x1="371.84" y1="314.60" x2="371.84" y2="325.50" stroke="#a6b92e" class="dl"/>
<line x1="362.69" y1="312.60" x2="357.20" y2="312.60" stroke="#a6b92e" class="dl"/>
<line x1="357.20" y1="312.60" x2="357.20" y2="325.50" stroke="#a6b92e" class="dl"/>
<line x1="362.69" y1="312.60" x2="368.18" y2="312.60" stroke="#a6b92e" class="dl"/>
<line x1="368.18" y1="312.60" x2="368.18" y2="314.60" stroke="#a6b92e" class="dl"/>
<line x1="404.78" y1="316.30" x2="401.12" y2="316.30" stroke="#2ec65c" class="dl"/>
<line x1="401.12" y1="316.30" x2="401.12" y2="325.50" stroke="#2ec65c" class="dl"/>
<line x1="404.78" y1="316.30" x2="408.44" y2="316.30" stroke="#2ec65c" class="dl"/>
<line x1="408.44" y1="316.30" x2="408.44" y2="325.50" stroke="#2ec65c" class="dl"/>
<line x1="399.29" y1="314.80" x2="393.80" y2="314.80" stroke="#2ec65c" class="dl"/>
<line x1="393.80" y1="314.80" x2="393.80" y2="325.50" stroke="#2ec65c" class="dl"/>
<line x1="399.29" y1="314.80" x2="404.78" y2="314.80" stroke="#2ec65c" class="dl"/>
<line x1="404.78" y1="314.80" x2="404.78" y2="316.30" stroke="#2ec65c" class="dl"/>
<line x1="392.88" y1="307.20" x2="386.48" y2="307.20" stroke="#2ec65c" class="dl"/>
<line x1="386.48" y1="307.20" x2="386.48" y2="325.50" stroke="#2ec65c" class="dl"/>
<line x1="392.88" y1="307.20" x2="399.29" y2="307.20" stroke="#2ec65c" class="dl"/>
<line x1="399.29" y1="307.20" x2="399.29" y2="314.80" stroke="#2ec65c" class="dl"/>
<line x1="386.02" y1="305.70" x2="379.16" y2="305.70" stroke="#2ec65c" class="dl"/>
<line x1="379.16" y1="305.70" x2="379.16" y2="325.50" stroke="#2ec65c" class="dl"/>
<line x1="386.02" y1="305.70" x2="392.88" y2="305.70" stroke="#2ec65c" class="dl"/>
<line x1="392.88" y1="305.70" x2="392.88" y2="307.20" stroke="#2ec65c" class="dl"/>
<line x1="374.36" y1="294.70" x2="362.69" y2="294.70" stroke="#a6b92e" class="dl"/>
<line x1="362.69" y1="294.70" x2="362.69" y2="312.60" stroke="#a6b92e" class="dl"/>
<line x1="374.36" y1="294.70" x2="386.02" y2="294.70" stroke="#2ec65c" class="dl"/>
<line x1="386.02" y1="294.70" x2="386.02" y2="305.70" stroke="#2ec65c" class="dl"/>
<line x1="356.63" y1="283.50" x2="338.90" y2="283.50" stroke="#dba62e" class="dl"/>
<line x1="338.90" y1="283.50" x2="338.90" y2="295.50" stroke="#dba62e" class="dl"/>
<line x1="356.63" y1="283.50" x2="374.36" y2="283.50" stroke="#333" class="dl"/>
<line x1="374.36" y1="283.50" x2="374.36" y2="294.70" stroke="#333" class="dl"/>
<line x1="328.55" y1="281.80" x2="300.47" y2="281.80" stroke="#f98f87" class="dl"/>
<line x1="300.47" y1="281.80" x2="300.47" y2="299.40" stroke="#f98f87" class="dl"/>
<line x1="328.55" y1="281.80" x2="356.63" y2="281.80" stroke="#333" class="dl"/>
<line x1="356.63" y1="281.80" x2="356.63" y2="283.50" stroke="#333" class="dl"/>
<line x1="426.74" y1="314.80" x2="423.08" y2="314.80" stroke="#2eccb0" class="dl"/>
<line x1="423.08" y1="314.80" x2="423.08" y2="325.50" stroke="#2eccb0" class="dl"/>
<line x1="426.74" y1="314.80" x2="430.40" y2="314.80" stroke="#2eccb0" class="dl"/>
<line x1="430.40" y1="314.80" x2="430.40" y2="325.50" stroke="#2eccb0" class="dl"/>
<line x1="421.25" y1="312.70" x2="415.76" y2="312.70" stroke="#2eccb0" class="dl"/>
<line x1="415.76" y1="312.70" x2="415.76" y2="325.50" stroke="#2eccb0" class="dl"/>
<line x1="421.25" y1="312.70" x2="426.74" y2="312.70" stroke="#2eccb0" class="dl"/>
<line x1="426.74" y1="312.70" x2="426.74" y2="314.80" stroke="#2eccb0" class="dl"/>
<line x1="448.70" y1="314.20" x2="445.04" y2="314.20" stroke="#2ec6e8" class="dl"/>
<line x1="445.04" y1="314.20" x2="445.04" y2="325.50" stroke="#2ec6e8" class="dl"/>
<line x1="448.70" y1="314.20" x2="452.36" y2="314.20" stroke="#2ec6e8" class="dl"/>
<line x1="452.36" y1="314.20" x2="452.36" y2="325.50" stroke="#2ec6e8" class="dl"/>
<line x1="443.21" y1="307.20" x2="437.72" y2="307.20" stroke="#2ec6e8" class="dl"/>
<line x1="437.72" y1="307.20" x2="437.72" y2="325.50" stroke="#2ec6e8" class="dl"/>
<line x1="443.21" y1="307.20" x2="448.70" y2="307.20" stroke="#2ec6e8" class="dl"/>
<line x1="448.70" y1="307.20" x2="448.70" y2="314.20" stroke="#2ec6e8" class="dl"/>
<line x1="432.23" y1="288.20" x2="421.25" y2="288.20" stroke="#2eccb0" class="dl"/>
<line x1="421.25" y1="288.20" x2="421.25" y2="312.70" stroke="#2eccb0" class="dl"/>
<line x1="432.23" y1="288.20" x2="443.21" y2="288.20" stroke="#2ec6e8" class="dl"/>
<line x1="443.21" y1="288.20" x2="443.21" y2="307.20" stroke="#2ec6e8" class="dl"/>
<line x1="470.66" y1="312.20" x2="467.00" y2="312.20" stroke="#7daeff" class="dl"/>
<line x1="467.00" y1="312.20" x2="467.00" y2="325.50" stroke="#7daeff" class="dl"/>
<line x1="470.66" y1="312.20" x2="474.32" y2="312.20" stroke="#7daeff" class="dl"/>
<line x1="474.32" y1="312.20" x2="474.32" y2="325.50" stroke="#7daeff" class="dl"/>
<line x1="465.17" y1="308.60" x2="459.68" y2="308.60" stroke="#7daeff" class="dl"/>
<line x1="459.68" y1="308.60" x2="459.68" y2="325.50" stroke="#7daeff" class="dl"/>
<line x1="465.17" y1="308.60" x2="470.66" y2="308.60" stroke="#7daeff" class="dl"/>
<line x1="470.66" y1="308.60" x2="470.66" y2="312.20" stroke="#7daeff" class="dl"/>
<line x1="492.62" y1="314.00" x2="488.96" y2="314.00" stroke="#7daeff" class="dl"/>
<line x1="488.96" y1="314.00" x2="488.96" y2="325.50" stroke="#7daeff" class="dl"/>
<line x1="492.62" y1="314.00" x2="496.28" y2="314.00" stroke="#7daeff" class="dl"/>
<line x1="496.28" y1="314.00" x2="496.28" y2="325.50" stroke="#7daeff" class="dl"/>
<line x1="487.13" y1="308.10" x2="481.64" y2="308.10" stroke="#7daeff" class="dl"/>
<line x1="481.64" y1="308.10" x2="481.64" y2="325.50" stroke="#7daeff" class="dl"/>
<line x1="487.13" y1="308.10" x2="492.62" y2="308.10" stroke="#7daeff" class="dl"/>
<line x1="492.62" y1="308.10" x2="492.62" y2="314.00" stroke="#7daeff" class="dl"/>
<line x1="476.15" y1="297.90" x2="465.17" y2="297.90" stroke="#7daeff" class="dl"/>
<line x1="465.17" y1="297.90" x2="465.17" y2="308.60" stroke="#7daeff" class="dl"/>
<line x1="476.15" y1="297.90" x2="487.13" y2="297.90" stroke="#7daeff" class="dl"/>
<line x1="487.13" y1="297.90" x2="487.13" y2="308.10" stroke="#7daeff" class="dl"/>
<line x1="514.58" y1="311.90" x2="510.92" y2="311.90" stroke="#e18bfc" class="dl"/>
<line x1="510.92" y1="311.90" x2="510.92" y2="325.50" stroke="#e18bfc" class="dl"/>
<line x1="514.58" y1="311.90" x2="518.24" y2="311.90" stroke="#e18bfc" class="dl"/>
<line x1="518.24" y1="311.90" x2="518.24" y2="325.50" stroke="#e18bfc" class="dl"/>
<line x1="509.09" y1="306.40" x2="503.60" y2="306.40" stroke="#e18bfc" class="dl"/>
<line x1="503.60" y1="306.40" x2="503.60" y2="325.50" stroke="#e18bfc" class="dl"/>
<line x1="509.09" y1="306.40" x2="514.58" y2="306.40" stroke="#e18bfc" class="dl"/>
<line x1="514.58" y1="306.40" x2="514.58" y2="311.90" stroke="#e18bfc" class="dl"/>
<line x1="536.54" y1="314.00" x2="532.88" y2="314.00" stroke="#ff7dce" class="dl"/>
<line x1="532.88" y1="314.00" x2="532.88" y2="325.50" stroke="#ff7dce" class="dl"/>
<line x1="536.54" y1="314.00" x2="540.20" y2="314.00" stroke="#ff7dce" class="dl"/>
<line x1="540.20" y1="314.00" x2="540.20" y2="325.50" stroke="#ff7dce" class="dl"/>
<line x1="531.05" y1="301.20" x2="525.56" y2="301.20" stroke="#ff7dce" class="dl"/>
<line x1="525.56" y1="301.20" x2="525.56" y2="325.50" stroke="#ff7dce" class="dl"/>
<line x1="531.05" y1="301.20" x2="536.54" y2="301.20" stroke="#ff7dce" class="dl"/>
<line x1="536.54" y1="301.20" x2="536.54" y2="314.00" stroke="#ff7dce" class="dl"/>
<line x1="520.07" y1="281.10" x2="509.09" y2="281.10" stroke="#e18bfc" class="dl"/>
<line x1="509.09" y1="281.10" x2="509.09" y2="306.40" stroke="#e18bfc" class="dl"/>
<line x1="520.07" y1="281.10" x2="531.05" y2="281.10" stroke="#ff7dce" class="dl"/>
<line x1="531.05" y1="281.10" x2="531.05" y2="301.20" stroke="#ff7dce" class="dl"/>
<line x1="498.11" y1="270.40" x2="476.15" y2="270.40" stroke="#7daeff" class="dl"/>
<line x1="476.15" y1="270.40" x2="476.15" y2="297.90" stroke="#7daeff" class="dl"/>
<line x1="498.11" y1="270.40" x2="520.07" y2="270.40" stroke="#333" class="dl"/>
<line x1="520.07" y1="270.40" x2="520.07" y2="281.10" stroke="#333" class="dl"/>
<line x1="465.17" y1="263.00" x2="432.23" y2="263.00" stroke="#333" class="dl"/>
<line x1="432.23" y1="263.00" x2="432.23" y2="288.20" stroke="#333" class="dl"/>
<line x1="465.17" y1="263.00" x2="498.11" y2="263.00" stroke="#333" class="dl"/>
<line x1="498.11" y1="263.00" x2="498.11" y2="270.40" stroke="#333" class="dl"/>
<line x1="396.86" y1="251.50" x2="328.55" y2="251.50" stroke="#333" class="dl"/>
<line x1="328.55" y1="251.50" x2="328.55" y2="281.80" stroke="#333" class="dl"/>
<line x1="396.86" y1="251.50" x2="465.17" y2="251.50" stroke="#333" class="dl"/>
<line x1="465.17" y1="251.50" x2="465.17" y2="263.00" stroke="#333" class="dl"/>
<rect x="281.40" y="295.1" width="41.70" height="70.40" class="dr"/>
<rect x="325.32" y="295.1" width="27.06" height="70.40" class="dr"/>
<rect x="354.60" y="295.1" width="19.74" height="70.40" class="dr"/>
<rect x="376.56" y="295.1" width="34.38" height="70.40" class="dr"/>
<rect x="413.16" y="295.1" width="19.74" height="70.40" class="dr"/>
<rect x="435.12" y="295.1" width="19.74" height="70.40" class="dr"/>
<rect x="457.08" y="295.1" width="41.70" height="70.40" class="dr"/>
<rect x="501.00" y="295.1" width="19.74" height="70.40" class="dr"/>
<rect x="522.96" y="295.1" width="19.74" height="70.40" class="dr"/>
<text class="dlab" transform="translate(285.61,326.8) rotate(-90)" fill="#F8766D" stroke="#F8766D">XZX45OT1d-1</text>
<text class="dlab" transform="translate(292.93,326.8) rotate(-90)" fill="#F8766D" stroke="#F8766D">XZX45OT1d-2</text>
<text class="dlab" transform="translate(300.25,326.8) rotate(-90)" fill="#F8766D" stroke="#F8766D">XZX45OT1d-3</text>
<text class="dlab" transform="translate(307.57,326.8) rotate(-90)" fill="#F8766D" stroke="#F8766D">XZX45OT5d-1</text>
<text class="dlab" transform="translate(314.89,326.8) rotate(-90)" fill="#F8766D" stroke="#F8766D">XZX45OT5d-2</text>
<text class="dlab" transform="translate(322.21,326.8) rotate(-90)" fill="#F8766D" stroke="#F8766D">XZX45OT5d-3</text>
<text class="dlab" transform="translate(329.53,326.8) rotate(-90)" fill="#D39200" stroke="#D39200">SQSLOT5d-1</text>
<text class="dlab" transform="translate(336.85,326.8) rotate(-90)" fill="#D39200" stroke="#D39200">SQSLOT5d-2</text>
<text class="dlab" transform="translate(344.17,326.8) rotate(-90)" fill="#D39200" stroke="#D39200">SQSLOT3d-2</text>
<text class="dlab" transform="translate(351.49,326.8) rotate(-90)" fill="#D39200" stroke="#D39200">SQSLOT3d-3</text>
<text class="dlab" transform="translate(358.81,326.8) rotate(-90)" fill="#93AA00" stroke="#93AA00">XZX45OT3d-2</text>
<text class="dlab" transform="translate(366.13,326.8) rotate(-90)" fill="#93AA00" stroke="#93AA00">XZX45OT3d-1</text>
<text class="dlab" transform="translate(373.45,326.8) rotate(-90)" fill="#93AA00" stroke="#93AA00">XZX45OT3d-3</text>
<text class="dlab" transform="translate(380.77,326.8) rotate(-90)" fill="#00BA38" stroke="#00BA38">SQSLOT3d-1</text>
<text class="dlab" transform="translate(388.09,326.8) rotate(-90)" fill="#00BA38" stroke="#00BA38">SQSLOT5d-3</text>
<text class="dlab" transform="translate(395.41,326.8) rotate(-90)" fill="#00BA38" stroke="#00BA38">SQSLOT1d-3</text>
<text class="dlab" transform="translate(402.73,326.8) rotate(-90)" fill="#00BA38" stroke="#00BA38">SQSLOT1d-1</text>
<text class="dlab" transform="translate(410.05,326.8) rotate(-90)" fill="#00BA38" stroke="#00BA38">SQSLOT1d-2</text>
<text class="dlab" transform="translate(417.37,326.8) rotate(-90)" fill="#00C19F" stroke="#00C19F">XZX45LT1d-1</text>
<text class="dlab" transform="translate(424.69,326.8) rotate(-90)" fill="#00C19F" stroke="#00C19F">XZX45LT1d-2</text>
<text class="dlab" transform="translate(432.01,326.8) rotate(-90)" fill="#00C19F" stroke="#00C19F">XZX45LT1d-3</text>
<text class="dlab" transform="translate(439.33,326.8) rotate(-90)" fill="#00B9E3" stroke="#00B9E3">XZX45LT3d-2</text>
<text class="dlab" transform="translate(446.65,326.8) rotate(-90)" fill="#00B9E3" stroke="#00B9E3">XZX45LT3d-1</text>
<text class="dlab" transform="translate(453.97,326.8) rotate(-90)" fill="#00B9E3" stroke="#00B9E3">XZX45LT3d-3</text>
<text class="dlab" transform="translate(461.29,326.8) rotate(-90)" fill="#619CFF" stroke="#619CFF">SQSLLT3d-1</text>
<text class="dlab" transform="translate(468.61,326.8) rotate(-90)" fill="#619CFF" stroke="#619CFF">SQSLLT3d-2</text>
<text class="dlab" transform="translate(475.93,326.8) rotate(-90)" fill="#619CFF" stroke="#619CFF">SQSLLT3d-3</text>
<text class="dlab" transform="translate(483.25,326.8) rotate(-90)" fill="#619CFF" stroke="#619CFF">SQSLLT5d-1</text>
<text class="dlab" transform="translate(490.57,326.8) rotate(-90)" fill="#619CFF" stroke="#619CFF">SQSLLT5d-2</text>
<text class="dlab" transform="translate(497.89,326.8) rotate(-90)" fill="#619CFF" stroke="#619CFF">SQSLLT5d-3</text>
<text class="dlab" transform="translate(505.21,326.8) rotate(-90)" fill="#DB72FB" stroke="#DB72FB">SQSLLT1d-1</text>
<text class="dlab" transform="translate(512.53,326.8) rotate(-90)" fill="#DB72FB" stroke="#DB72FB">SQSLLT1d-2</text>
<text class="dlab" transform="translate(519.85,326.8) rotate(-90)" fill="#DB72FB" stroke="#DB72FB">SQSLLT1d-3</text>
<text class="dlab" transform="translate(527.17,326.8) rotate(-90)" fill="#FF61C3" stroke="#FF61C3">XZX45LT5d-1</text>
<text class="dlab" transform="translate(534.49,326.8) rotate(-90)" fill="#FF61C3" stroke="#FF61C3">XZX45LT5d-2</text>
<text class="dlab" transform="translate(541.81,326.8) rotate(-90)" fill="#FF61C3" stroke="#FF61C3">XZX45LT5d-3</text>
<text class="big" transform="translate(6.1,15.7) scale(0.94,1)" style="font-size:15px">A</text>
<text x="292.5" y="15.8" style="font-size:15px;fill:#111">B</text>
<text class="big" x="5.6" y="251" style="font-size:15.5px">C</text>
<text class="big" x="293.4" y="249.8" style="font-size:14px">D</text>
</svg>
</body></html>
